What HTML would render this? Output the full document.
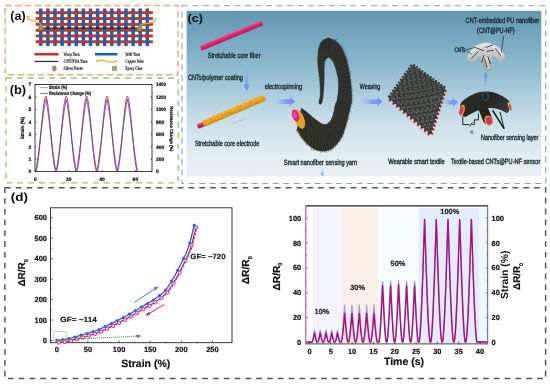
<!DOCTYPE html>
<html><head><meta charset="utf-8"><title>figure</title>
<style>html,body{margin:0;padding:0;background:#fff;}body{width:550px;height:384px;overflow:hidden}svg{display:block}text{text-rendering:geometricPrecision}</style>
</head><body>
<svg width="550" height="384" viewBox="0 0 550 384">
<defs>
<linearGradient id="bg" x1="0" y1="0" x2="0" y2="1">
<stop offset="0" stop-color="#6396af"/><stop offset="0.2" stop-color="#79abc3"/><stop offset="0.45" stop-color="#a1c6d7"/><stop offset="0.65" stop-color="#c6dde7"/><stop offset="0.85" stop-color="#e0ebf0"/><stop offset="1" stop-color="#e8f0f4"/>
</linearGradient>
<linearGradient id="pinkg" x1="0" y1="0" x2="0" y2="1"><stop offset="0" stop-color="#f0508a"/><stop offset="0.45" stop-color="#e3286c"/><stop offset="1" stop-color="#b81a55"/></linearGradient>
<linearGradient id="yelg" x1="0" y1="0" x2="0" y2="1"><stop offset="0" stop-color="#f2b93a"/><stop offset="0.5" stop-color="#e6a323"/><stop offset="1" stop-color="#c98912"/></linearGradient>
<linearGradient id="arrR" x1="0" y1="0" x2="1" y2="0"><stop offset="0" stop-color="#8fa8f4" stop-opacity="0"/><stop offset="0.55" stop-color="#7595f4" stop-opacity="0.85"/><stop offset="1" stop-color="#6c8cf4"/></linearGradient>
<linearGradient id="arrD" x1="0" y1="0" x2="0" y2="1"><stop offset="0" stop-color="#9bbcf0" stop-opacity="0.1"/><stop offset="1" stop-color="#5b8def"/></linearGradient>
<linearGradient id="arrU" x1="0" y1="1" x2="0" y2="0"><stop offset="0" stop-color="#9bbcf0" stop-opacity="0.1"/><stop offset="1" stop-color="#5b8def"/></linearGradient>
<radialGradient id="pinkend" cx="0.5" cy="0.5" r="0.5"><stop offset="0" stop-color="#ef4f93"/><stop offset="0.7" stop-color="#e32a70"/><stop offset="1" stop-color="#e8a020"/></radialGradient>
</defs>
<rect width="550" height="384" fill="#fff"/>
<rect x="5.2" y="5.5" width="172.8" height="69.3" fill="none" stroke="#f2a878" stroke-width="1.4" stroke-dasharray="6.5 3.4"/>
<rect x="6" y="78" width="172.2" height="104.80000000000001" fill="none" stroke="#8fcb6b" stroke-width="1.3" stroke-dasharray="6 4.8"/>
<rect x="182" y="5.7" width="363.70000000000005" height="177.8" fill="none" stroke="#7f9fe3" stroke-width="1.1" stroke-dasharray="6 4.5"/>
<rect x="4.9" y="187.7" width="540.7" height="190.90000000000003" fill="none" stroke="#555" stroke-width="1.45" stroke-dasharray="5.8 5"/>
<text x="10.3" y="20.2" font-family='"Liberation Sans", Arial, sans-serif' font-size="12.3" font-weight="bold" text-anchor="start" fill="#111" textLength="15.4" lengthAdjust="spacingAndGlyphs" >(a)</text>
<rect x="35.7" y="11.25" width="117.2" height="2.9" fill="#c0392b"/>
<rect x="35.7" y="17.05" width="117.2" height="2.9" fill="#c0392b"/>
<rect x="35.7" y="22.95" width="117.2" height="2.9" fill="#c0392b"/>
<rect x="35.7" y="28.85" width="117.2" height="2.9" fill="#c0392b"/>
<rect x="35.7" y="34.45" width="117.2" height="2.9" fill="#c0392b"/>
<rect x="35.7" y="40.35" width="117.2" height="2.9" fill="#c0392b"/>
<rect x="39.05" y="8.5" width="3.5" height="37.5" fill="#1f5fae"/>
<rect x="46.15" y="8.5" width="3.5" height="37.5" fill="#1f5fae"/>
<rect x="53.25" y="8.5" width="3.5" height="37.5" fill="#1f5fae"/>
<rect x="60.35" y="8.5" width="3.5" height="37.5" fill="#1f5fae"/>
<rect x="67.45" y="8.5" width="3.5" height="37.5" fill="#1f5fae"/>
<rect x="74.55" y="8.5" width="3.5" height="37.5" fill="#1f5fae"/>
<rect x="81.65" y="8.5" width="3.5" height="37.5" fill="#1f5fae"/>
<rect x="88.75" y="8.5" width="3.5" height="37.5" fill="#1f5fae"/>
<rect x="95.85" y="8.5" width="3.5" height="37.5" fill="#1f5fae"/>
<rect x="102.95" y="8.5" width="3.5" height="37.5" fill="#1f5fae"/>
<rect x="110.05" y="8.5" width="3.5" height="37.5" fill="#1f5fae"/>
<rect x="117.15" y="8.5" width="3.5" height="37.5" fill="#1f5fae"/>
<rect x="124.25" y="8.5" width="3.5" height="37.5" fill="#1f5fae"/>
<rect x="131.35" y="8.5" width="3.5" height="37.5" fill="#1f5fae"/>
<rect x="138.45" y="8.5" width="3.5" height="37.5" fill="#1f5fae"/>
<rect x="145.55" y="8.5" width="3.5" height="37.5" fill="#1f5fae"/>
<rect x="45.70" y="11.25" width="4.4" height="2.9" fill="#c0392b"/>
<rect x="59.90" y="11.25" width="4.4" height="2.9" fill="#c0392b"/>
<rect x="74.10" y="11.25" width="4.4" height="2.9" fill="#c0392b"/>
<rect x="88.30" y="11.25" width="4.4" height="2.9" fill="#c0392b"/>
<rect x="102.50" y="11.25" width="4.4" height="2.9" fill="#c0392b"/>
<rect x="116.70" y="11.25" width="4.4" height="2.9" fill="#c0392b"/>
<rect x="130.90" y="11.25" width="4.4" height="2.9" fill="#c0392b"/>
<rect x="145.10" y="11.25" width="4.4" height="2.9" fill="#c0392b"/>
<rect x="38.60" y="17.05" width="4.4" height="2.9" fill="#c0392b"/>
<rect x="52.80" y="17.05" width="4.4" height="2.9" fill="#c0392b"/>
<rect x="67.00" y="17.05" width="4.4" height="2.9" fill="#c0392b"/>
<rect x="81.20" y="17.05" width="4.4" height="2.9" fill="#c0392b"/>
<rect x="95.40" y="17.05" width="4.4" height="2.9" fill="#c0392b"/>
<rect x="109.60" y="17.05" width="4.4" height="2.9" fill="#c0392b"/>
<rect x="123.80" y="17.05" width="4.4" height="2.9" fill="#c0392b"/>
<rect x="138.00" y="17.05" width="4.4" height="2.9" fill="#c0392b"/>
<rect x="45.70" y="22.95" width="4.4" height="2.9" fill="#c0392b"/>
<rect x="59.90" y="22.95" width="4.4" height="2.9" fill="#c0392b"/>
<rect x="74.10" y="22.95" width="4.4" height="2.9" fill="#c0392b"/>
<rect x="88.30" y="22.95" width="4.4" height="2.9" fill="#c0392b"/>
<rect x="102.50" y="22.95" width="4.4" height="2.9" fill="#c0392b"/>
<rect x="116.70" y="22.95" width="4.4" height="2.9" fill="#c0392b"/>
<rect x="130.90" y="22.95" width="4.4" height="2.9" fill="#c0392b"/>
<rect x="145.10" y="22.95" width="4.4" height="2.9" fill="#c0392b"/>
<rect x="38.60" y="28.85" width="4.4" height="2.9" fill="#c0392b"/>
<rect x="52.80" y="28.85" width="4.4" height="2.9" fill="#c0392b"/>
<rect x="67.00" y="28.85" width="4.4" height="2.9" fill="#c0392b"/>
<rect x="81.20" y="28.85" width="4.4" height="2.9" fill="#c0392b"/>
<rect x="95.40" y="28.85" width="4.4" height="2.9" fill="#c0392b"/>
<rect x="109.60" y="28.85" width="4.4" height="2.9" fill="#c0392b"/>
<rect x="123.80" y="28.85" width="4.4" height="2.9" fill="#c0392b"/>
<rect x="138.00" y="28.85" width="4.4" height="2.9" fill="#c0392b"/>
<rect x="45.70" y="34.45" width="4.4" height="2.9" fill="#c0392b"/>
<rect x="59.90" y="34.45" width="4.4" height="2.9" fill="#c0392b"/>
<rect x="74.10" y="34.45" width="4.4" height="2.9" fill="#c0392b"/>
<rect x="88.30" y="34.45" width="4.4" height="2.9" fill="#c0392b"/>
<rect x="102.50" y="34.45" width="4.4" height="2.9" fill="#c0392b"/>
<rect x="116.70" y="34.45" width="4.4" height="2.9" fill="#c0392b"/>
<rect x="130.90" y="34.45" width="4.4" height="2.9" fill="#c0392b"/>
<rect x="145.10" y="34.45" width="4.4" height="2.9" fill="#c0392b"/>
<rect x="38.60" y="40.35" width="4.4" height="2.9" fill="#c0392b"/>
<rect x="52.80" y="40.35" width="4.4" height="2.9" fill="#c0392b"/>
<rect x="67.00" y="40.35" width="4.4" height="2.9" fill="#c0392b"/>
<rect x="81.20" y="40.35" width="4.4" height="2.9" fill="#c0392b"/>
<rect x="95.40" y="40.35" width="4.4" height="2.9" fill="#c0392b"/>
<rect x="109.60" y="40.35" width="4.4" height="2.9" fill="#c0392b"/>
<rect x="123.80" y="40.35" width="4.4" height="2.9" fill="#c0392b"/>
<rect x="138.00" y="40.35" width="4.4" height="2.9" fill="#c0392b"/>
<line x1="43" y1="28.2" x2="139" y2="28.2" stroke="#1a1a1a" stroke-width="1.2"/>
<ellipse cx="40.8" cy="27.6" rx="2.6" ry="2.6" fill="#8a9a66"/>
<ellipse cx="139.8" cy="28.2" rx="2.6" ry="2.6" fill="#8a9a66"/>
<path d="M41.5 25.6 C41 23.5 39.5 22.5 36 21.5 C32 20.3 28.5 19.8 27.2 18.6 C26 17.2 27.5 16 30.2 16.3" fill="none" stroke="#eda21b" stroke-width="1.15"/>
<path d="M139.8 26.3 C140.5 24.5 142 23.6 145 23.6 C149 23.6 152.5 23 154.5 21 C155.8 19.6 156.2 18.6 156.2 17.6" fill="none" stroke="#eda21b" stroke-width="1.15"/>
<rect x="34.5" y="52.9" width="24" height="2.6" fill="#c0392b"/>
<rect x="95" y="52.9" width="22.5" height="2.6" fill="#1f5fae"/>
<rect x="34.5" y="60.8" width="24" height="1.3" fill="#333"/>
<path d="M96 61.8 C99 59.2 102 59.6 106 61.2 C110 62.8 114 62.6 117.5 60.4" fill="none" stroke="#eda21b" stroke-width="1.15"/>
<ellipse cx="54.3" cy="68.4" rx="2.2" ry="2.8" fill="#8e8e86"/>
<rect x="112" y="65.9" width="5" height="5" fill="#9bad78"/>
<text x="63.6" y="55.6" font-family='"Liberation Serif", "Times New Roman", serif' font-size="5.2" font-weight="bold" text-anchor="start" fill="#2a2a2a" textLength="16" lengthAdjust="spacingAndGlyphs" stroke="#2a2a2a" stroke-width="0.15">Warp Yarn</text>
<text x="125.3" y="55.6" font-family='"Liberation Serif", "Times New Roman", serif' font-size="5.2" font-weight="bold" text-anchor="start" fill="#2a2a2a" textLength="14.8" lengthAdjust="spacingAndGlyphs" stroke="#2a2a2a" stroke-width="0.15">Weft Yarn</text>
<text x="63.6" y="63" font-family='"Liberation Serif", "Times New Roman", serif' font-size="5.2" font-weight="bold" text-anchor="start" fill="#2a2a2a" textLength="24" lengthAdjust="spacingAndGlyphs" stroke="#2a2a2a" stroke-width="0.15">CNT/PVA Yarn</text>
<text x="125.3" y="63" font-family='"Liberation Serif", "Times New Roman", serif' font-size="5.2" font-weight="bold" text-anchor="start" fill="#2a2a2a" textLength="18.4" lengthAdjust="spacingAndGlyphs" stroke="#2a2a2a" stroke-width="0.15">Copper Wire</text>
<text x="63.6" y="70" font-family='"Liberation Serif", "Times New Roman", serif' font-size="5.2" font-weight="bold" text-anchor="start" fill="#2a2a2a" textLength="19" lengthAdjust="spacingAndGlyphs" stroke="#2a2a2a" stroke-width="0.15">Silver Paste</text>
<text x="125.3" y="70" font-family='"Liberation Serif", "Times New Roman", serif' font-size="5.2" font-weight="bold" text-anchor="start" fill="#2a2a2a" textLength="17" lengthAdjust="spacingAndGlyphs" stroke="#2a2a2a" stroke-width="0.15">Epoxy Glue</text>
<text x="9.7" y="93.8" font-family='"Liberation Sans", Arial, sans-serif' font-size="12.6" font-weight="bold" text-anchor="start" fill="#111" textLength="16.5" lengthAdjust="spacingAndGlyphs" >(b)</text>
<rect x="35" y="84.5" width="117" height="87.1" fill="#fff" stroke="#111" stroke-width="0.8"/>
<polyline points="35.60,171.60 35.85,171.25 36.10,170.75 36.35,170.08 36.60,169.24 36.85,168.22 37.10,167.03 37.35,165.67 37.60,164.14 37.85,162.45 38.10,160.61 38.35,158.62 38.60,156.49 38.85,154.24 39.10,151.88 39.35,149.41 39.60,146.85 39.85,144.22 40.10,141.53 40.35,138.79 40.60,136.02 40.85,133.23 41.10,130.45 41.35,127.68 41.60,124.94 41.85,122.24 42.10,119.61 42.35,117.05 42.60,114.59 42.85,112.23 43.10,109.98 43.35,107.87 43.60,105.90 43.85,104.08 44.10,102.43 44.35,100.94 44.60,99.63 44.85,98.51 45.10,97.58 45.35,96.85 45.60,96.31 45.85,96.09 46.10,96.50 46.35,97.12 46.60,97.93 46.85,98.94 47.10,100.14 47.35,101.51 47.60,103.07 47.85,104.79 48.10,106.67 48.35,108.70 48.60,110.87 48.85,113.16 49.10,115.56 49.35,118.07 49.60,120.65 49.85,123.31 50.10,126.03 50.35,128.78 50.60,131.56 50.85,134.35 51.10,137.13 51.35,139.89 51.60,142.61 51.85,145.28 52.10,147.89 52.35,150.41 52.60,152.84 52.85,155.16 53.10,157.36 53.35,159.43 53.60,161.36 53.85,163.14 54.10,164.77 54.35,166.23 54.60,167.52 54.85,168.65 55.10,169.59 55.35,170.37 55.60,170.97 55.85,171.41 56.10,171.48 56.35,171.07 56.60,170.50 56.85,169.76 57.10,168.85 57.35,167.76 57.60,166.50 57.85,165.07 58.10,163.48 58.35,161.73 58.60,159.83 58.85,157.78 59.10,155.61 59.35,153.31 59.60,150.90 59.85,148.40 60.10,145.81 60.35,143.15 60.60,140.44 60.85,137.69 61.10,134.91 61.35,132.12 61.60,129.34 61.85,126.58 62.10,123.85 62.35,121.18 62.60,118.58 62.85,116.05 63.10,113.63 63.35,111.31 63.60,109.12 63.85,107.06 64.10,105.15 64.35,103.40 64.60,101.81 64.85,100.40 65.10,99.16 65.35,98.12 65.60,97.27 65.85,96.61 66.10,96.15 66.35,96.23 66.60,96.73 66.85,97.42 67.10,98.31 67.35,99.40 67.60,100.66 67.85,102.11 68.10,103.74 68.35,105.52 68.60,107.46 68.85,109.55 69.10,111.77 69.35,114.11 69.60,116.55 69.85,119.09 70.10,121.71 70.35,124.39 70.60,127.12 70.85,129.89 71.10,132.68 71.35,135.46 71.60,138.24 71.85,140.99 72.10,143.69 72.35,146.33 72.60,148.91 72.85,151.39 73.10,153.78 73.35,156.05 73.60,158.20 73.85,160.22 74.10,162.09 74.35,163.81 74.60,165.37 74.85,166.77 75.10,167.99 75.35,169.05 75.60,169.92 75.85,170.63 76.10,171.17 76.35,171.54 76.60,171.33 76.85,170.86 77.10,170.23 77.35,169.42 77.60,168.44 77.85,167.28 78.10,165.95 78.35,164.46 78.60,162.80 78.85,160.99 79.10,159.03 79.35,156.93 79.60,154.70 79.85,152.36 80.10,149.91 80.35,147.37 80.60,144.75 80.85,142.07 81.10,139.34 81.35,136.58 81.60,133.79 81.85,131.00 82.10,128.23 82.35,125.48 82.60,122.78 82.85,120.13 83.10,117.56 83.35,115.07 83.60,112.69 83.85,110.42 84.10,108.28 84.35,106.28 84.60,104.43 84.85,102.74 85.10,101.22 85.35,99.88 85.60,98.72 85.85,97.75 86.10,96.98 86.35,96.40 86.60,96.03 86.85,96.40 87.10,96.98 87.35,97.75 87.60,98.72 87.85,99.88 88.10,101.22 88.35,102.74 88.60,104.43 88.85,106.28 89.10,108.28 89.35,110.42 89.60,112.69 89.85,115.07 90.10,117.56 90.35,120.13 90.60,122.78 90.85,125.48 91.10,128.23 91.35,131.00 91.60,133.79 91.85,136.58 92.10,139.34 92.35,142.07 92.60,144.75 92.85,147.37 93.10,149.91 93.35,152.36 93.60,154.70 93.85,156.93 94.10,159.03 94.35,160.99 94.60,162.80 94.85,164.46 95.10,165.95 95.35,167.28 95.60,168.44 95.85,169.42 96.10,170.23 96.35,170.86 96.60,171.33 96.85,171.54 97.10,171.17 97.35,170.63 97.60,169.92 97.85,169.05 98.10,167.99 98.35,166.77 98.60,165.37 98.85,163.81 99.10,162.09 99.35,160.22 99.60,158.20 99.85,156.05 100.10,153.78 100.35,151.39 100.60,148.91 100.85,146.33 101.10,143.69 101.35,140.99 101.60,138.24 101.85,135.46 102.10,132.68 102.35,129.89 102.60,127.12 102.85,124.39 103.10,121.71 103.35,119.09 103.60,116.55 103.85,114.11 104.10,111.77 104.35,109.55 104.60,107.46 104.85,105.52 105.10,103.74 105.35,102.11 105.60,100.66 105.85,99.40 106.10,98.31 106.35,97.42 106.60,96.73 106.85,96.23 107.10,96.15 107.35,96.61 107.60,97.27 107.85,98.12 108.10,99.16 108.35,100.40 108.60,101.81 108.85,103.40 109.10,105.15 109.35,107.06 109.60,109.12 109.85,111.31 110.10,113.63 110.35,116.05 110.60,118.58 110.85,121.18 111.10,123.85 111.35,126.58 111.60,129.34 111.85,132.12 112.10,134.91 112.35,137.69 112.60,140.44 112.85,143.15 113.10,145.81 113.35,148.40 113.60,150.90 113.85,153.31 114.10,155.61 114.35,157.78 114.60,159.83 114.85,161.73 115.10,163.48 115.35,165.07 115.60,166.50 115.85,167.76 116.10,168.85 116.35,169.76 116.60,170.50 116.85,171.07 117.10,171.48 117.35,171.41 117.60,170.97 117.85,170.37 118.10,169.59 118.35,168.65 118.60,167.52 118.85,166.23 119.10,164.77 119.35,163.14 119.60,161.36 119.85,159.43 120.10,157.36 120.35,155.16 120.60,152.84 120.85,150.41 121.10,147.89 121.35,145.28 121.60,142.61 121.85,139.89 122.10,137.13 122.35,134.35 122.60,131.56 122.85,128.78 123.10,126.03 123.35,123.31 123.60,120.65 123.85,118.07 124.10,115.56 124.35,113.16 124.60,110.87 124.85,108.70 125.10,106.67 125.35,104.79 125.60,103.07 125.85,101.51 126.10,100.14 126.35,98.94 126.60,97.93 126.85,97.12 127.10,96.50 127.35,96.09 127.60,96.31 127.85,96.85 128.10,97.58 128.35,98.51 128.60,99.63 128.85,100.94 129.10,102.43 129.35,104.08 129.60,105.90 129.85,107.87 130.10,109.98 130.35,112.23 130.60,114.59 130.85,117.05 131.10,119.61 131.35,122.24 131.60,124.94 131.85,127.68 132.10,130.45 132.35,133.23 132.60,136.02 132.85,138.79 133.10,141.53 133.35,144.22 133.60,146.85 133.85,149.41 134.10,151.88 134.35,154.24 134.60,156.49 134.85,158.62 135.10,160.61 135.35,162.45 135.60,164.14 135.85,165.67 136.10,167.03 136.35,168.22 136.60,169.24 136.85,170.08 137.10,170.75 137.35,171.25 137.60,171.60" fill="none" stroke="#e0222c" stroke-width="0.95"/>
<polyline points="35.60,171.60 35.85,170.32 36.10,168.98 36.35,167.57 36.60,166.10 36.85,164.56 37.10,162.97 37.35,161.32 37.60,159.61 37.85,157.86 38.10,156.05 38.35,154.19 38.60,152.29 38.85,150.36 39.10,148.39 39.35,146.38 39.60,144.36 39.85,142.31 40.10,140.24 40.35,138.16 40.60,136.08 40.85,133.99 41.10,131.91 41.35,129.83 41.60,127.77 41.85,125.72 42.10,123.70 42.35,121.70 42.60,119.74 42.85,117.81 43.10,115.92 43.35,114.07 43.60,112.27 43.85,110.52 44.10,108.83 44.35,107.19 44.60,105.61 44.85,104.09 45.10,102.63 45.35,101.23 45.60,99.90 45.85,99.14 46.10,100.43 46.35,101.79 46.60,103.21 46.85,104.69 47.10,106.23 47.35,107.84 47.60,109.50 47.85,111.22 48.10,112.99 48.35,114.80 48.60,116.67 48.85,118.57 49.10,120.52 49.35,122.50 49.60,124.50 49.85,126.54 50.10,128.59 50.35,130.66 50.60,132.74 50.85,134.82 51.10,136.91 51.35,138.99 51.60,141.07 51.85,143.13 52.10,145.17 52.35,147.19 52.60,149.18 52.85,151.14 53.10,153.06 53.35,154.94 53.60,156.78 53.85,158.57 54.10,160.30 54.35,161.99 54.60,163.62 54.85,165.18 55.10,166.69 55.35,168.14 55.60,169.52 55.85,170.84 56.10,171.10 56.35,169.79 56.60,168.42 56.85,166.99 57.10,165.49 57.35,163.93 57.60,162.32 57.85,160.64 58.10,158.92 58.35,157.14 58.60,155.31 58.85,153.44 59.10,151.52 59.35,149.57 59.60,147.59 59.85,145.58 60.10,143.54 60.35,141.48 60.60,139.41 60.85,137.33 61.10,135.24 61.35,133.16 61.60,131.07 61.85,129.00 62.10,126.95 62.35,124.91 62.60,122.90 62.85,120.91 63.10,118.96 63.35,117.05 63.60,115.17 63.85,113.35 64.10,111.57 64.35,109.84 64.60,108.17 64.85,106.55 65.10,104.99 65.35,103.50 65.60,102.06 65.85,100.69 66.10,99.39 66.35,99.64 66.60,100.96 66.85,102.35 67.10,103.79 67.35,105.30 67.60,106.87 67.85,108.50 68.10,110.18 68.35,111.92 68.60,113.71 68.85,115.54 69.10,117.43 69.35,119.35 69.60,121.31 69.85,123.30 70.10,125.31 70.35,127.36 70.60,129.42 70.85,131.49 71.10,133.57 71.35,135.66 71.60,137.75 71.85,139.83 72.10,141.89 72.35,143.95 72.60,145.98 72.85,147.99 73.10,149.97 73.35,151.91 73.60,153.82 73.85,155.68 74.10,157.50 74.35,159.27 74.60,160.98 74.85,162.65 75.10,164.25 75.35,165.79 75.60,167.28 75.85,168.70 76.10,170.06 76.35,171.35 76.60,170.58 76.85,169.25 77.10,167.85 77.35,166.40 77.60,164.88 77.85,163.29 78.10,161.66 78.35,159.96 78.60,158.21 78.85,156.41 79.10,154.57 79.35,152.68 79.60,150.75 79.85,148.78 80.10,146.79 80.35,144.76 80.60,142.72 80.85,140.66 81.10,138.58 81.35,136.49 81.60,134.41 81.85,132.32 82.10,130.24 82.35,128.18 82.60,126.13 82.85,124.10 83.10,122.10 83.35,120.13 83.60,118.19 83.85,116.29 84.10,114.44 84.35,112.63 84.60,110.87 84.85,109.16 85.10,107.51 85.35,105.92 85.60,104.39 85.85,102.92 86.10,101.51 86.35,100.16 86.60,98.88 86.85,100.16 87.10,101.51 87.35,102.92 87.60,104.39 87.85,105.92 88.10,107.51 88.35,109.16 88.60,110.87 88.85,112.63 89.10,114.44 89.35,116.29 89.60,118.19 89.85,120.13 90.10,122.10 90.35,124.10 90.60,126.13 90.85,128.18 91.10,130.24 91.35,132.32 91.60,134.41 91.85,136.49 92.10,138.58 92.35,140.66 92.60,142.72 92.85,144.76 93.10,146.79 93.35,148.78 93.60,150.75 93.85,152.68 94.10,154.57 94.35,156.41 94.60,158.21 94.85,159.96 95.10,161.66 95.35,163.29 95.60,164.88 95.85,166.40 96.10,167.85 96.35,169.25 96.60,170.58 96.85,171.35 97.10,170.06 97.35,168.70 97.60,167.28 97.85,165.79 98.10,164.25 98.35,162.65 98.60,160.98 98.85,159.27 99.10,157.50 99.35,155.68 99.60,153.82 99.85,151.91 100.10,149.97 100.35,147.99 100.60,145.98 100.85,143.95 101.10,141.89 101.35,139.83 101.60,137.75 101.85,135.66 102.10,133.57 102.35,131.49 102.60,129.42 102.85,127.36 103.10,125.31 103.35,123.30 103.60,121.31 103.85,119.35 104.10,117.43 104.35,115.54 104.60,113.71 104.85,111.92 105.10,110.18 105.35,108.50 105.60,106.87 105.85,105.30 106.10,103.79 106.35,102.35 106.60,100.96 106.85,99.64 107.10,99.39 107.35,100.69 107.60,102.06 107.85,103.50 108.10,104.99 108.35,106.55 108.60,108.17 108.85,109.84 109.10,111.57 109.35,113.35 109.60,115.17 109.85,117.05 110.10,118.96 110.35,120.91 110.60,122.90 110.85,124.91 111.10,126.95 111.35,129.00 111.60,131.07 111.85,133.16 112.10,135.24 112.35,137.33 112.60,139.41 112.85,141.48 113.10,143.54 113.35,145.58 113.60,147.59 113.85,149.57 114.10,151.52 114.35,153.44 114.60,155.31 114.85,157.14 115.10,158.92 115.35,160.64 115.60,162.32 115.85,163.93 116.10,165.49 116.35,166.99 116.60,168.42 116.85,169.79 117.10,171.10 117.35,170.84 117.60,169.52 117.85,168.14 118.10,166.69 118.35,165.18 118.60,163.62 118.85,161.99 119.10,160.30 119.35,158.57 119.60,156.78 119.85,154.94 120.10,153.06 120.35,151.14 120.60,149.18 120.85,147.19 121.10,145.17 121.35,143.13 121.60,141.07 121.85,138.99 122.10,136.91 122.35,134.82 122.60,132.74 122.85,130.66 123.10,128.59 123.35,126.54 123.60,124.50 123.85,122.50 124.10,120.52 124.35,118.57 124.60,116.67 124.85,114.80 125.10,112.99 125.35,111.22 125.60,109.50 125.85,107.84 126.10,106.23 126.35,104.69 126.60,103.21 126.85,101.79 127.10,100.43 127.35,99.14 127.60,99.90 127.85,101.23 128.10,102.63 128.35,104.09 128.60,105.61 128.85,107.19 129.10,108.83 129.35,110.52 129.60,112.27 129.85,114.07 130.10,115.92 130.35,117.81 130.60,119.74 130.85,121.70 131.10,123.70 131.35,125.72 131.60,127.77 131.85,129.83 132.10,131.91 132.35,133.99 132.60,136.08 132.85,138.16 133.10,140.24 133.35,142.31 133.60,144.36 133.85,146.38 134.10,148.39 134.35,150.36 134.60,152.29 134.85,154.19 135.10,156.05 135.35,157.86 135.60,159.61 135.85,161.32 136.10,162.97 136.35,164.56 136.60,166.10 136.85,167.57 137.10,168.98 137.35,170.32 137.60,171.60" fill="none" stroke="#3040c8" stroke-width="0.8"/>
<line x1="35" y1="171.60" x2="36.6" y2="171.60" stroke="#111" stroke-width="0.6"/>
<text x="31.4" y="173.4" font-family='"Liberation Sans", Arial, sans-serif' font-size="5" font-weight="bold" text-anchor="end" fill="#111" stroke="#111" stroke-width="0.22">0</text>
<line x1="35" y1="159.17" x2="36.6" y2="159.17" stroke="#111" stroke-width="0.6"/>
<text x="31.4" y="160.97" font-family='"Liberation Sans", Arial, sans-serif' font-size="5" font-weight="bold" text-anchor="end" fill="#111" stroke="#111" stroke-width="0.22">1</text>
<line x1="35" y1="146.74" x2="36.6" y2="146.74" stroke="#111" stroke-width="0.6"/>
<text x="31.4" y="148.54000000000002" font-family='"Liberation Sans", Arial, sans-serif' font-size="5" font-weight="bold" text-anchor="end" fill="#111" stroke="#111" stroke-width="0.22">2</text>
<line x1="35" y1="134.31" x2="36.6" y2="134.31" stroke="#111" stroke-width="0.6"/>
<text x="31.4" y="136.11" font-family='"Liberation Sans", Arial, sans-serif' font-size="5" font-weight="bold" text-anchor="end" fill="#111" stroke="#111" stroke-width="0.22">3</text>
<line x1="35" y1="121.88" x2="36.6" y2="121.88" stroke="#111" stroke-width="0.6"/>
<text x="31.4" y="123.67999999999999" font-family='"Liberation Sans", Arial, sans-serif' font-size="5" font-weight="bold" text-anchor="end" fill="#111" stroke="#111" stroke-width="0.22">4</text>
<line x1="35" y1="109.45" x2="36.6" y2="109.45" stroke="#111" stroke-width="0.6"/>
<text x="31.4" y="111.24999999999999" font-family='"Liberation Sans", Arial, sans-serif' font-size="5" font-weight="bold" text-anchor="end" fill="#111" stroke="#111" stroke-width="0.22">5</text>
<line x1="35" y1="97.02" x2="36.6" y2="97.02" stroke="#111" stroke-width="0.6"/>
<text x="31.4" y="98.82" font-family='"Liberation Sans", Arial, sans-serif' font-size="5" font-weight="bold" text-anchor="end" fill="#111" stroke="#111" stroke-width="0.22">6</text>
<line x1="35" y1="84.59" x2="36.6" y2="84.59" stroke="#111" stroke-width="0.6"/>
<text x="31.4" y="86.39" font-family='"Liberation Sans", Arial, sans-serif' font-size="5" font-weight="bold" text-anchor="end" fill="#111" stroke="#111" stroke-width="0.22">7</text>
<line x1="150.4" y1="171.60" x2="152" y2="171.60" stroke="#111" stroke-width="0.6"/>
<text x="155.9" y="173.4" font-family='"Liberation Sans", Arial, sans-serif' font-size="5" font-weight="bold" text-anchor="start" fill="#111" stroke="#111" stroke-width="0.22">0</text>
<line x1="150.4" y1="159.16" x2="152" y2="159.16" stroke="#111" stroke-width="0.6"/>
<text x="155.9" y="160.95714285714286" font-family='"Liberation Sans", Arial, sans-serif' font-size="5" font-weight="bold" text-anchor="start" fill="#111" stroke="#111" stroke-width="0.22">200</text>
<line x1="150.4" y1="146.71" x2="152" y2="146.71" stroke="#111" stroke-width="0.6"/>
<text x="155.9" y="148.51428571428573" font-family='"Liberation Sans", Arial, sans-serif' font-size="5" font-weight="bold" text-anchor="start" fill="#111" stroke="#111" stroke-width="0.22">400</text>
<line x1="150.4" y1="134.27" x2="152" y2="134.27" stroke="#111" stroke-width="0.6"/>
<text x="155.9" y="136.07142857142858" font-family='"Liberation Sans", Arial, sans-serif' font-size="5" font-weight="bold" text-anchor="start" fill="#111" stroke="#111" stroke-width="0.22">600</text>
<line x1="150.4" y1="121.83" x2="152" y2="121.83" stroke="#111" stroke-width="0.6"/>
<text x="155.9" y="123.62857142857142" font-family='"Liberation Sans", Arial, sans-serif' font-size="5" font-weight="bold" text-anchor="start" fill="#111" stroke="#111" stroke-width="0.22">800</text>
<line x1="150.4" y1="109.39" x2="152" y2="109.39" stroke="#111" stroke-width="0.6"/>
<text x="155.9" y="111.18571428571427" font-family='"Liberation Sans", Arial, sans-serif' font-size="5" font-weight="bold" text-anchor="start" fill="#111" textLength="10.2" lengthAdjust="spacingAndGlyphs" stroke="#111" stroke-width="0.22">1000</text>
<line x1="150.4" y1="96.94" x2="152" y2="96.94" stroke="#111" stroke-width="0.6"/>
<text x="155.9" y="98.74285714285715" font-family='"Liberation Sans", Arial, sans-serif' font-size="5" font-weight="bold" text-anchor="start" fill="#111" textLength="10.2" lengthAdjust="spacingAndGlyphs" stroke="#111" stroke-width="0.22">1200</text>
<line x1="150.4" y1="84.50" x2="152" y2="84.50" stroke="#111" stroke-width="0.6"/>
<text x="155.9" y="86.3" font-family='"Liberation Sans", Arial, sans-serif' font-size="5" font-weight="bold" text-anchor="start" fill="#111" textLength="10.2" lengthAdjust="spacingAndGlyphs" stroke="#111" stroke-width="0.22">1400</text>
<line x1="35.50" y1="171.6" x2="35.50" y2="170.0" stroke="#111" stroke-width="0.6"/>
<text x="35.5" y="180.6" font-family='"Liberation Sans", Arial, sans-serif' font-size="5" font-weight="bold" text-anchor="middle" fill="#111" stroke="#111" stroke-width="0.22">0</text>
<line x1="68.80" y1="171.6" x2="68.80" y2="170.0" stroke="#111" stroke-width="0.6"/>
<text x="68.8" y="180.6" font-family='"Liberation Sans", Arial, sans-serif' font-size="5" font-weight="bold" text-anchor="middle" fill="#111" stroke="#111" stroke-width="0.22">20</text>
<line x1="102.10" y1="171.6" x2="102.10" y2="170.0" stroke="#111" stroke-width="0.6"/>
<text x="102.1" y="180.6" font-family='"Liberation Sans", Arial, sans-serif' font-size="5" font-weight="bold" text-anchor="middle" fill="#111" stroke="#111" stroke-width="0.22">40</text>
<line x1="135.40" y1="171.6" x2="135.40" y2="170.0" stroke="#111" stroke-width="0.6"/>
<text x="135.4" y="180.6" font-family='"Liberation Sans", Arial, sans-serif' font-size="5" font-weight="bold" text-anchor="middle" fill="#111" stroke="#111" stroke-width="0.22">60</text>
<text x="23.8" y="128" font-family='"Liberation Sans", Arial, sans-serif' font-size="4.8" font-weight="bold" text-anchor="middle" fill="#111" transform="rotate(-90 23.8 128)" stroke="#111" stroke-width="0.22">Strain (%)</text>
<text x="170.4" y="128.8" font-family='"Liberation Sans", Arial, sans-serif' font-size="4.5" font-weight="bold" text-anchor="middle" fill="#111" textLength="45" lengthAdjust="spacingAndGlyphs" transform="rotate(90 170.4 128.8)" stroke="#111" stroke-width="0.22">Resistance Change (%)</text>
<line x1="40.3" y1="87.6" x2="48" y2="87.6" stroke="#3b4fc4" stroke-width="0.7" stroke-dasharray="1.2 0.4"/>
<line x1="40.3" y1="93.4" x2="48" y2="93.4" stroke="#e0222c" stroke-width="0.8"/>
<text x="49" y="89.3" font-family='"Liberation Sans", Arial, sans-serif' font-size="5" font-weight="bold" text-anchor="start" fill="#111" textLength="18.2" lengthAdjust="spacingAndGlyphs" stroke="#111" stroke-width="0.22">Strain (%)</text>
<text x="49" y="95.1" font-family='"Liberation Sans", Arial, sans-serif' font-size="5" font-weight="bold" text-anchor="start" fill="#111" textLength="42" lengthAdjust="spacingAndGlyphs" stroke="#111" stroke-width="0.22">Resistance Change (%)</text>
<rect x="186.6" y="10.8" width="354.7" height="165.7" fill="url(#bg)"/>
<text x="187.6" y="22.2" font-family='"Liberation Sans", Arial, sans-serif' font-size="11.4" font-weight="bold" text-anchor="start" fill="#0a0a0a" textLength="15.4" lengthAdjust="spacingAndGlyphs" >(c)</text>
<text x="207.8" y="57.8" font-family='"Liberation Sans", Arial, sans-serif' font-size="7.7" font-weight="normal" text-anchor="start" fill="#1c2a33" textLength="52.7" lengthAdjust="spacingAndGlyphs" stroke="#1c2a33" stroke-width="0.4">Stretchable core fiber</text>
<text x="187.9" y="79.8" font-family='"Liberation Sans", Arial, sans-serif' font-size="7.7" font-weight="normal" text-anchor="start" fill="#1c2a33" textLength="55" lengthAdjust="spacingAndGlyphs" stroke="#1c2a33" stroke-width="0.4">CNTs/polymer coating</text>
<text x="264.7" y="89.4" font-family='"Liberation Sans", Arial, sans-serif' font-size="7.7" font-weight="normal" text-anchor="start" fill="#1c2a33" textLength="37.4" lengthAdjust="spacingAndGlyphs" stroke="#1c2a33" stroke-width="0.4">electrospinning</text>
<text x="194.9" y="146.2" font-family='"Liberation Sans", Arial, sans-serif' font-size="7.7" font-weight="normal" text-anchor="start" fill="#1c2a33" textLength="64.4" lengthAdjust="spacingAndGlyphs" stroke="#1c2a33" stroke-width="0.4">Stretchable core electrode</text>
<text x="284.1" y="164.6" font-family='"Liberation Sans", Arial, sans-serif' font-size="7.7" font-weight="normal" text-anchor="start" fill="#1c2a33" textLength="73" lengthAdjust="spacingAndGlyphs" stroke="#1c2a33" stroke-width="0.4">Smart nanofiber sensing yarn</text>
<text x="359.8" y="88.6" font-family='"Liberation Sans", Arial, sans-serif' font-size="7.7" font-weight="normal" text-anchor="start" fill="#1c2a33" textLength="20.5" lengthAdjust="spacingAndGlyphs" stroke="#1c2a33" stroke-width="0.4">Weaving</text>
<text x="388.2" y="163.8" font-family='"Liberation Sans", Arial, sans-serif' font-size="7.7" font-weight="normal" text-anchor="start" fill="#1c2a33" textLength="56.6" lengthAdjust="spacingAndGlyphs" stroke="#1c2a33" stroke-width="0.4">Wearable smart textile</text>
<text x="451" y="163.8" font-family='"Liberation Sans", Arial, sans-serif' font-size="7.7" font-weight="normal" text-anchor="start" fill="#1c2a33" textLength="89.3" lengthAdjust="spacingAndGlyphs" stroke="#1c2a33" stroke-width="0.4">Textile-based CNTs@PU-NF sensor</text>
<text x="465.6" y="22.7" font-family='"Liberation Sans", Arial, sans-serif' font-size="7.7" font-weight="normal" text-anchor="start" fill="#1c2a33" textLength="73.6" lengthAdjust="spacingAndGlyphs" stroke="#1c2a33" stroke-width="0.4">CNT-embedded PU nanofiber</text>
<text x="477.1" y="32.5" font-family='"Liberation Sans", Arial, sans-serif' font-size="7.7" font-weight="normal" text-anchor="start" fill="#1c2a33" textLength="37.5" lengthAdjust="spacingAndGlyphs" stroke="#1c2a33" stroke-width="0.4">(CNT@PU-NF)</text>
<text x="454.6" y="51.9" font-family='"Liberation Sans", Arial, sans-serif' font-size="6.6" font-weight="normal" text-anchor="start" fill="#1c2a33" textLength="11" lengthAdjust="spacingAndGlyphs" stroke="#1c2a33" stroke-width="0.4">CNTs</text>
<text x="481" y="140.3" font-family='"Liberation Sans", Arial, sans-serif' font-size="7.7" font-weight="normal" text-anchor="start" fill="#1c2a33" textLength="57.4" lengthAdjust="spacingAndGlyphs" stroke="#1c2a33" stroke-width="0.4">Nanofiber sensing layer</text>
<text x="470.2" y="134" font-family='"Liberation Sans", Arial, sans-serif' font-size="5.4" font-weight="normal" text-anchor="start" fill="#111" >K</text>
<g transform="translate(200.6 48.3) rotate(-22.42)"><rect x="0" y="-2.6" width="66.85" height="5.2" rx="1.30" fill="url(#pinkg)"/></g>
<g transform="translate(197.4 126.7) rotate(-23.58)"><rect x="0" y="-2.4" width="13.75" height="4.8" rx="1.20" fill="url(#pinkg)"/></g>
<g transform="translate(203.2 123.8) rotate(-23.24)"><rect x="0" y="-3.3" width="67.15" height="6.6" rx="1.65" fill="url(#yelg)"/></g>
<g transform="translate(203.2 123.8) rotate(-23.24)"><circle cx="16.5" cy="0.2" r="0.41" fill="#d4951b"/><circle cx="31.9" cy="0.5" r="0.48" fill="#f3c24a"/><circle cx="17.9" cy="-1.5" r="0.60" fill="#f3c24a"/><circle cx="36.2" cy="0.3" r="0.42" fill="#c98a14"/><circle cx="16.1" cy="-2.0" r="0.58" fill="#f3c24a"/><circle cx="49.3" cy="1.0" r="0.32" fill="#d4951b"/><circle cx="3.8" cy="1.6" r="0.55" fill="#f3c24a"/><circle cx="31.8" cy="1.2" r="0.56" fill="#d4951b"/><circle cx="52.3" cy="-0.4" r="0.52" fill="#d4951b"/><circle cx="30.0" cy="2.4" r="0.56" fill="#c98a14"/><circle cx="3.3" cy="-0.0" r="0.38" fill="#d4951b"/><circle cx="29.4" cy="0.7" r="0.39" fill="#d4951b"/><circle cx="55.3" cy="0.4" r="0.46" fill="#f3c24a"/><circle cx="39.1" cy="2.3" r="0.50" fill="#c98a14"/><circle cx="56.8" cy="2.7" r="0.50" fill="#c98a14"/><circle cx="46.5" cy="-1.0" r="0.46" fill="#d4951b"/><circle cx="38.1" cy="1.2" r="0.36" fill="#d4951b"/><circle cx="18.4" cy="-2.1" r="0.44" fill="#d4951b"/><circle cx="65.5" cy="-2.3" r="0.54" fill="#f3c24a"/><circle cx="59.4" cy="-2.7" r="0.43" fill="#f3c24a"/><circle cx="57.9" cy="-2.6" r="0.48" fill="#c98a14"/><circle cx="25.6" cy="0.5" r="0.47" fill="#f3c24a"/><circle cx="33.9" cy="2.8" r="0.39" fill="#c98a14"/><circle cx="8.0" cy="0.2" r="0.58" fill="#f3c24a"/><circle cx="20.0" cy="-1.3" r="0.51" fill="#f3c24a"/><circle cx="21.4" cy="2.6" r="0.57" fill="#f3c24a"/><circle cx="25.5" cy="2.1" r="0.42" fill="#d4951b"/><circle cx="45.4" cy="-2.2" r="0.59" fill="#d4951b"/><circle cx="18.7" cy="0.8" r="0.51" fill="#f3c24a"/><circle cx="29.5" cy="-1.4" r="0.39" fill="#f3c24a"/><circle cx="1.7" cy="-0.5" r="0.47" fill="#c98a14"/><circle cx="25.5" cy="0.5" r="0.34" fill="#d4951b"/><circle cx="41.9" cy="-0.2" r="0.50" fill="#f3c24a"/><circle cx="40.7" cy="-1.2" r="0.45" fill="#d4951b"/><circle cx="4.9" cy="1.0" r="0.59" fill="#f3c24a"/><circle cx="41.9" cy="-1.1" r="0.48" fill="#c98a14"/><circle cx="24.7" cy="-1.0" r="0.41" fill="#d4951b"/><circle cx="18.2" cy="1.6" r="0.33" fill="#c98a14"/><circle cx="64.3" cy="1.0" r="0.34" fill="#d4951b"/><circle cx="15.5" cy="1.7" r="0.37" fill="#c98a14"/><circle cx="45.2" cy="0.8" r="0.33" fill="#d4951b"/><circle cx="22.0" cy="-0.9" r="0.55" fill="#f3c24a"/><circle cx="53.8" cy="2.6" r="0.32" fill="#d4951b"/><circle cx="43.4" cy="2.2" r="0.44" fill="#c98a14"/><circle cx="52.3" cy="-2.6" r="0.59" fill="#f3c24a"/><circle cx="53.6" cy="1.9" r="0.36" fill="#f3c24a"/><circle cx="23.2" cy="1.8" r="0.33" fill="#d4951b"/><circle cx="23.5" cy="-2.1" r="0.39" fill="#f3c24a"/><circle cx="31.3" cy="0.8" r="0.39" fill="#d4951b"/><circle cx="27.7" cy="2.4" r="0.35" fill="#c98a14"/><circle cx="32.1" cy="1.9" r="0.49" fill="#d4951b"/><circle cx="29.3" cy="2.5" r="0.58" fill="#c98a14"/><circle cx="3.1" cy="-0.2" r="0.53" fill="#d4951b"/><circle cx="34.8" cy="-1.2" r="0.40" fill="#c98a14"/><circle cx="57.1" cy="2.0" r="0.59" fill="#c98a14"/><circle cx="53.8" cy="-2.5" r="0.57" fill="#d4951b"/><circle cx="34.4" cy="-1.7" r="0.57" fill="#f3c24a"/><circle cx="38.6" cy="-2.7" r="0.52" fill="#c98a14"/><circle cx="33.8" cy="-1.5" r="0.31" fill="#d4951b"/><circle cx="28.0" cy="2.5" r="0.48" fill="#f3c24a"/><circle cx="9.2" cy="2.6" r="0.46" fill="#c98a14"/><circle cx="23.9" cy="-1.7" r="0.46" fill="#c98a14"/><circle cx="12.2" cy="1.6" r="0.58" fill="#c98a14"/><circle cx="54.7" cy="-2.8" r="0.49" fill="#f3c24a"/><circle cx="4.3" cy="-1.3" r="0.38" fill="#d4951b"/><circle cx="34.9" cy="-2.5" r="0.40" fill="#c98a14"/><circle cx="56.8" cy="1.5" r="0.31" fill="#c98a14"/><circle cx="5.5" cy="2.7" r="0.56" fill="#c98a14"/><circle cx="34.6" cy="-0.1" r="0.35" fill="#c98a14"/><circle cx="23.9" cy="0.8" r="0.48" fill="#f3c24a"/><circle cx="18.3" cy="2.7" r="0.43" fill="#c98a14"/><circle cx="37.2" cy="1.2" r="0.41" fill="#c98a14"/><circle cx="37.9" cy="-2.6" r="0.44" fill="#d4951b"/><circle cx="52.0" cy="-0.7" r="0.54" fill="#d4951b"/><circle cx="58.8" cy="-2.5" r="0.49" fill="#d4951b"/><circle cx="21.5" cy="2.5" r="0.43" fill="#c98a14"/><circle cx="17.0" cy="0.2" r="0.51" fill="#c98a14"/><circle cx="53.3" cy="-1.5" r="0.34" fill="#c98a14"/><circle cx="62.0" cy="-0.7" r="0.57" fill="#f3c24a"/><circle cx="8.9" cy="1.1" r="0.58" fill="#d4951b"/><circle cx="44.1" cy="2.2" r="0.54" fill="#d4951b"/><circle cx="8.1" cy="-1.0" r="0.46" fill="#d4951b"/><circle cx="47.7" cy="-0.1" r="0.37" fill="#f3c24a"/><circle cx="3.9" cy="-2.3" r="0.33" fill="#f3c24a"/><circle cx="12.7" cy="-2.7" r="0.55" fill="#c98a14"/><circle cx="2.7" cy="-2.2" r="0.44" fill="#d4951b"/><circle cx="63.0" cy="0.4" r="0.54" fill="#c98a14"/><circle cx="65.9" cy="0.4" r="0.46" fill="#c98a14"/><circle cx="8.0" cy="1.4" r="0.58" fill="#c98a14"/><circle cx="36.8" cy="2.1" r="0.35" fill="#c98a14"/><circle cx="16.8" cy="-1.8" r="0.37" fill="#d4951b"/><circle cx="46.6" cy="2.5" r="0.38" fill="#d4951b"/><circle cx="26.8" cy="-0.8" r="0.43" fill="#c98a14"/><circle cx="25.5" cy="-1.5" r="0.58" fill="#d4951b"/><circle cx="64.0" cy="-0.5" r="0.47" fill="#d4951b"/><circle cx="44.9" cy="0.1" r="0.45" fill="#d4951b"/><circle cx="27.1" cy="2.2" r="0.35" fill="#f3c24a"/><circle cx="49.7" cy="2.3" r="0.46" fill="#f3c24a"/><circle cx="39.2" cy="2.0" r="0.34" fill="#c98a14"/><circle cx="10.5" cy="0.1" r="0.58" fill="#d4951b"/><circle cx="36.1" cy="1.6" r="0.50" fill="#f3c24a"/><circle cx="39.8" cy="0.5" r="0.60" fill="#c98a14"/><circle cx="21.0" cy="-1.3" r="0.54" fill="#c98a14"/><circle cx="12.2" cy="-0.8" r="0.40" fill="#c98a14"/><circle cx="28.3" cy="1.1" r="0.51" fill="#c98a14"/><circle cx="31.5" cy="1.9" r="0.55" fill="#d4951b"/><circle cx="2.8" cy="2.8" r="0.32" fill="#f3c24a"/><circle cx="52.0" cy="2.1" r="0.31" fill="#c98a14"/><circle cx="59.0" cy="0.8" r="0.53" fill="#c98a14"/><circle cx="63.5" cy="2.0" r="0.37" fill="#c98a14"/><circle cx="51.5" cy="-2.0" r="0.49" fill="#d4951b"/><circle cx="56.9" cy="2.2" r="0.38" fill="#c98a14"/><circle cx="21.4" cy="-0.4" r="0.52" fill="#c98a14"/><circle cx="8.7" cy="-1.3" r="0.57" fill="#c98a14"/><circle cx="24.2" cy="0.4" r="0.50" fill="#c98a14"/><circle cx="2.9" cy="-0.9" r="0.41" fill="#c98a14"/><circle cx="14.7" cy="0.5" r="0.59" fill="#f3c24a"/><circle cx="9.2" cy="-1.0" r="0.57" fill="#c98a14"/><circle cx="44.4" cy="-2.2" r="0.57" fill="#f3c24a"/><circle cx="7.3" cy="2.5" r="0.41" fill="#f3c24a"/><circle cx="50.3" cy="-1.1" r="0.50" fill="#d4951b"/><circle cx="62.5" cy="1.8" r="0.33" fill="#f3c24a"/><circle cx="44.8" cy="0.2" r="0.33" fill="#f3c24a"/><circle cx="34.1" cy="-2.5" r="0.39" fill="#d4951b"/><circle cx="37.9" cy="-1.8" r="0.49" fill="#d4951b"/><circle cx="10.7" cy="-0.7" r="0.58" fill="#f3c24a"/><circle cx="9.0" cy="2.4" r="0.34" fill="#f3c24a"/><circle cx="43.0" cy="0.8" r="0.43" fill="#f3c24a"/><circle cx="43.2" cy="-0.2" r="0.39" fill="#c98a14"/><circle cx="47.0" cy="-2.2" r="0.35" fill="#d4951b"/><circle cx="36.4" cy="1.3" r="0.41" fill="#f3c24a"/><circle cx="18.6" cy="-2.5" r="0.34" fill="#f3c24a"/><circle cx="33.9" cy="-1.4" r="0.53" fill="#f3c24a"/><circle cx="58.0" cy="2.5" r="0.43" fill="#c98a14"/><circle cx="24.0" cy="1.9" r="0.33" fill="#f3c24a"/><circle cx="39.4" cy="1.0" r="0.47" fill="#d4951b"/><circle cx="8.3" cy="1.1" r="0.47" fill="#d4951b"/><circle cx="49.4" cy="1.8" r="0.52" fill="#d4951b"/><circle cx="40.6" cy="2.0" r="0.54" fill="#d4951b"/><circle cx="35.4" cy="0.4" r="0.36" fill="#f3c24a"/><circle cx="25.1" cy="-1.2" r="0.55" fill="#f3c24a"/><circle cx="59.1" cy="2.5" r="0.41" fill="#d4951b"/><circle cx="60.0" cy="-1.1" r="0.45" fill="#d4951b"/><circle cx="45.7" cy="-1.1" r="0.56" fill="#f3c24a"/><circle cx="3.0" cy="-1.7" r="0.49" fill="#c98a14"/><circle cx="51.2" cy="0.9" r="0.45" fill="#d4951b"/><circle cx="41.7" cy="-1.7" r="0.53" fill="#c98a14"/><circle cx="3.4" cy="0.0" r="0.49" fill="#f3c24a"/><circle cx="8.3" cy="-1.2" r="0.50" fill="#c98a14"/><circle cx="9.8" cy="1.6" r="0.49" fill="#c98a14"/></g>
<line x1="230.8" y1="123.9" x2="248.1" y2="117.9" stroke="#c9a0a8" stroke-width="0.5"/>
<line x1="240.7" y1="100.3" x2="249.4" y2="104.3" stroke="#b9908a" stroke-width="0.4"/>
<path d="M245.1 64 L245.1 85 L243.29999999999998 85 L246.6 91 L249.9 85 L248.1 85 L248.1 64 Z" fill="url(#arrD)"/>
<path d="M274.5 99.3 L289.8 99.3 L289.8 96.89999999999999 L295 101.6 L289.8 106.3 L289.8 103.89999999999999 L274.5 103.89999999999999 Z" fill="url(#arrR)"/>
<path d="M360.5 99.6 L377.3 99.6 L377.3 97.25 L382.3 101.85 L377.3 106.44999999999999 L377.3 104.1 L360.5 104.1 Z" fill="url(#arrR)"/>
<path d="M443 100.05 L452.8 100.05 L452.8 97.7 L457.8 102.3 L452.8 106.89999999999999 L452.8 104.55 L443 104.55 Z" fill="url(#arrR)"/>
<path d="M484.3 91.5 L484.3 77 L482.6 77 L485.6 72 L488.6 77 L486.90000000000003 77 L486.90000000000003 91.5 Z" fill="url(#arrU)"/>
<path d="M321.4 168 L321.4 172.8 L320.15 172.8 L322.4 176.3 L324.65 172.8 L323.4 172.8 L323.4 168 Z" fill="url(#arrD)"/>
<path d="M297.3 129.6 L297.6 130.1 L297.9 130.8 L298.3 131.6 L298.8 132.4 L299.3 133.4 L299.8 134.4 L300.4 135.4 L301.0 136.4 L301.7 137.4 L302.4 138.3 L303.2 139.2 L304.0 140.2 L304.8 141.2 L305.8 142.2 L306.7 143.2 L307.7 144.1 L308.7 145.1 L309.7 145.9 L310.6 146.7 L311.6 147.4 L312.6 148.0 L313.5 148.6 L314.5 149.1 L315.5 149.5 L316.5 149.9 L317.5 150.2 L318.5 150.5 L319.4 150.7 L320.4 150.9 L321.4 151.0 L322.4 151.1 L323.3 151.1 L324.3 151.0 L325.3 151.0 L326.2 150.8 L327.2 150.6 L328.2 150.3 L329.1 150.0 L330.1 149.5 L331.0 149.0 L332.0 148.4 L332.9 147.7 L333.9 146.8 L334.9 146.0 L335.9 145.0 L336.8 144.0 L337.7 142.9 L338.6 141.8 L339.4 140.7 L340.2 139.6 L340.9 138.5 L341.5 137.3 L342.1 136.1 L342.6 134.8 L343.1 133.5 L343.6 132.2 L344.0 130.8 L344.5 129.4 L344.9 127.9 L345.4 126.4 L345.9 124.7 L346.4 122.9 L346.9 121.0 L347.4 119.1 L347.9 117.1 L348.4 115.1 L348.9 113.2 L349.3 111.4 L349.7 109.7 L350.0 108.2 L350.3 106.9 L350.6 105.9 L350.8 105.0 L351.0 104.2 L351.2 103.4 L351.3 102.7 L351.4 101.9 L351.5 101.0 L351.6 100.0 L351.6 98.8 L351.6 97.4 L351.6 95.9 L351.5 94.4 L351.5 92.7 L351.3 91.0 L351.2 89.2 L351.1 87.4 L350.9 85.6 L350.7 83.8 L350.5 82.0 L350.3 80.2 L350.0 78.3 L349.8 76.4 L349.5 74.5 L349.2 72.5 L348.9 70.6 L348.6 68.7 L348.2 66.8 L347.8 65.0 L347.4 63.3 L347.0 61.6 L346.5 60.0 L346.0 58.4 L345.4 56.9 L344.9 55.3 L344.3 53.9 L343.7 52.5 L343.2 51.2 L342.6 49.9 L342.0 48.8 L341.4 47.8 L340.9 46.8 L340.3 46.0 L339.7 45.2 L339.1 44.5 L338.5 43.8 L337.9 43.2 L337.3 42.6 L336.7 42.0 L336.0 41.5 L335.3 41.0 L334.5 40.5 L333.6 40.0 L332.7 39.6 L331.9 39.2 L331.0 38.9 L330.2 38.6 L329.5 38.3 L329.0 38.1 L328.5 37.9 L328.1 38.1 L327.6 38.2 L327.0 38.5 L326.3 38.7 L325.6 39.0 L324.8 39.3 L324.1 39.6 L323.4 40.0 L322.7 40.5 L322.2 41.0 L321.7 41.6 L321.3 42.2 L320.9 42.8 L320.5 43.5 L320.1 44.2 L319.8 45.0 L319.5 45.8 L319.2 46.7 L318.9 47.7 L318.7 48.8 L318.5 50.0 L318.3 51.2 L318.2 52.5 L318.1 53.9 L318.0 55.4 L317.9 56.9 L317.8 58.4 L317.8 60.0 L317.9 61.6 L317.9 63.3 L318.0 65.0 L318.1 66.9 L318.3 68.8 L318.6 70.8 L318.8 72.7 L319.1 74.7 L319.3 76.7 L319.6 78.6 L319.8 80.3 L319.9 82.0 L320.0 83.6 L320.1 85.1 L320.2 86.6 L320.2 88.0 L320.3 89.3 L320.3 90.6 L320.3 91.8 L320.3 93.0 L320.3 94.0 L320.3 95.0 L320.2 95.9 L320.2 96.6 L320.0 97.3 L319.9 97.9 L319.8 98.4 L319.6 98.8 L319.5 99.3 L319.4 99.7 L319.3 100.1 L319.2 100.5 L319.2 100.9 L319.1 101.3 L319.1 101.7 L319.1 102.0 L319.1 102.4 L319.1 102.6 L319.1 102.9 L319.2 103.2 L319.2 103.4 L319.3 103.6 L319.4 103.8 L319.5 103.9 L319.6 104.0 L319.8 104.1 L320.0 104.1 L320.1 104.2 L320.3 104.2 L320.4 104.2 L320.5 104.3 L320.6 104.3 L320.7 104.2 L320.8 104.0 L320.9 103.9 L321.1 103.7 L321.2 103.5 L321.4 103.3 L321.6 103.0 L321.7 102.7 L321.9 102.4 L322.0 102.0 L322.1 101.6 L322.2 101.2 L322.3 100.7 L322.4 100.3 L322.5 99.7 L322.6 99.2 L322.7 98.5 L322.8 97.8 L322.9 96.9 L323.0 96.0 L323.1 94.9 L323.2 93.8 L323.3 92.5 L323.4 91.1 L323.6 89.7 L323.7 88.2 L323.8 86.6 L323.9 85.1 L323.9 83.5 L324.0 82.0 L324.0 80.4 L324.1 78.7 L324.1 76.9 L324.1 75.0 L324.1 73.2 L324.1 71.4 L324.1 69.7 L324.1 68.1 L324.1 66.6 L324.2 65.4 L324.3 64.4 L324.4 63.5 L324.5 62.8 L324.6 62.2 L324.7 61.7 L324.9 61.3 L325.0 60.9 L325.2 60.6 L325.4 60.2 L325.6 59.8 L325.8 59.4 L326.1 59.0 L326.5 58.7 L326.8 58.3 L327.1 58.0 L327.5 57.8 L327.8 57.5 L328.1 57.3 L328.3 57.2 L328.5 57.0 L328.7 57.1 L328.9 57.3 L329.2 57.5 L329.5 57.7 L329.8 57.9 L330.1 58.1 L330.5 58.4 L330.8 58.7 L331.2 59.1 L331.5 59.5 L331.8 59.9 L332.1 60.3 L332.5 60.7 L332.8 61.1 L333.1 61.6 L333.4 62.1 L333.8 62.7 L334.1 63.5 L334.4 64.4 L334.8 65.4 L335.2 66.6 L335.6 68.0 L336.1 69.6 L336.5 71.3 L337.0 73.0 L337.4 74.8 L337.8 76.7 L338.2 78.5 L338.4 80.3 L338.6 82.0 L338.7 83.7 L338.7 85.5 L338.6 87.4 L338.5 89.2 L338.4 91.1 L338.2 92.9 L338.0 94.6 L337.8 96.1 L337.6 97.6 L337.4 98.8 L337.2 99.8 L337.1 100.6 L336.9 101.2 L336.7 101.7 L336.5 102.1 L336.3 102.4 L336.1 102.8 L335.8 103.3 L335.6 103.9 L335.4 104.6 L335.2 105.5 L335.0 106.5 L334.7 107.6 L334.5 108.8 L334.3 110.0 L334.1 111.2 L333.8 112.4 L333.6 113.5 L333.3 114.6 L333.0 115.5 L332.7 116.3 L332.4 117.1 L332.1 117.9 L331.8 118.6 L331.5 119.2 L331.2 119.8 L330.8 120.4 L330.4 120.9 L330.0 121.4 L329.6 121.9 L329.2 122.4 L328.7 122.8 L328.2 123.2 L327.7 123.6 L327.2 123.9 L326.7 124.2 L326.1 124.4 L325.5 124.6 L324.9 124.6 L324.2 124.6 L323.5 124.4 L322.7 124.2 L321.9 123.8 L321.1 123.4 L320.2 122.9 L319.3 122.3 L318.5 121.7 L317.6 121.1 L316.8 120.6 L316.0 120.0 L315.2 119.4 L314.5 118.8 L313.7 118.2 L313.0 117.6 L312.3 116.9 L311.6 116.2 L310.9 115.6 L310.1 114.9 L309.4 114.3 L308.7 113.7 L307.9 113.1 L307.1 112.5 L306.3 111.8 L305.4 111.2 L304.6 110.6 L303.8 110.0 L303.1 109.4 L302.4 108.9 L301.8 108.5 L301.4 108.2 Z" fill="#2c2c28" stroke="#2c2c28" stroke-width="0.6" stroke-linejoin="round"/>
<line x1="302.4" y1="108.9" x2="297.1" y2="130.4" stroke="#45453f" stroke-width="0.55"/>
<line x1="303.3" y1="109.6" x2="296.8" y2="131.3" stroke="#2c2c28" stroke-width="0.55"/>
<line x1="304.3" y1="110.3" x2="296.8" y2="131.1" stroke="#45453f" stroke-width="0.55"/>
<line x1="305.2" y1="111.0" x2="297.7" y2="132.8" stroke="#2c2c28" stroke-width="0.55"/>
<line x1="306.2" y1="111.8" x2="298.8" y2="133.8" stroke="#45453f" stroke-width="0.55"/>
<line x1="307.1" y1="112.5" x2="299.6" y2="136.0" stroke="#2c2c28" stroke-width="0.55"/>
<line x1="308.1" y1="113.2" x2="300.6" y2="137.7" stroke="#45453f" stroke-width="0.55"/>
<line x1="309.0" y1="114.0" x2="301.8" y2="139.3" stroke="#2c2c28" stroke-width="0.55"/>
<line x1="309.9" y1="114.7" x2="302.9" y2="141.3" stroke="#45453f" stroke-width="0.55"/>
<line x1="310.8" y1="115.5" x2="304.4" y2="141.8" stroke="#2c2c28" stroke-width="0.55"/>
<line x1="311.7" y1="116.3" x2="305.5" y2="144.5" stroke="#45453f" stroke-width="0.55"/>
<line x1="312.6" y1="117.2" x2="306.9" y2="145.8" stroke="#2c2c28" stroke-width="0.55"/>
<line x1="313.5" y1="118.0" x2="308.6" y2="145.9" stroke="#45453f" stroke-width="0.55"/>
<line x1="314.4" y1="118.7" x2="310.0" y2="147.3" stroke="#2c2c28" stroke-width="0.55"/>
<line x1="315.3" y1="119.5" x2="311.4" y2="149.9" stroke="#45453f" stroke-width="0.55"/>
<line x1="316.3" y1="120.2" x2="313.2" y2="150.9" stroke="#2c2c28" stroke-width="0.55"/>
<line x1="317.2" y1="120.9" x2="315.1" y2="150.5" stroke="#45453f" stroke-width="0.55"/>
<line x1="318.2" y1="121.6" x2="316.9" y2="151.0" stroke="#2c2c28" stroke-width="0.55"/>
<line x1="319.2" y1="122.2" x2="318.8" y2="151.7" stroke="#45453f" stroke-width="0.55"/>
<line x1="320.2" y1="122.9" x2="320.8" y2="152.8" stroke="#2c2c28" stroke-width="0.55"/>
<line x1="321.2" y1="123.5" x2="322.7" y2="152.2" stroke="#45453f" stroke-width="0.55"/>
<line x1="322.3" y1="124.0" x2="324.7" y2="152.3" stroke="#2c2c28" stroke-width="0.55"/>
<line x1="323.4" y1="124.4" x2="326.7" y2="152.8" stroke="#45453f" stroke-width="0.55"/>
<line x1="324.6" y1="124.6" x2="328.6" y2="151.7" stroke="#2c2c28" stroke-width="0.55"/>
<line x1="325.8" y1="124.5" x2="330.5" y2="151.6" stroke="#45453f" stroke-width="0.55"/>
<line x1="326.9" y1="124.1" x2="332.2" y2="150.4" stroke="#2c2c28" stroke-width="0.55"/>
<line x1="327.9" y1="123.5" x2="333.7" y2="148.7" stroke="#45453f" stroke-width="0.55"/>
<line x1="328.8" y1="122.7" x2="335.2" y2="147.5" stroke="#2c2c28" stroke-width="0.55"/>
<line x1="329.7" y1="121.8" x2="336.4" y2="145.5" stroke="#45453f" stroke-width="0.55"/>
<line x1="330.4" y1="120.9" x2="338.1" y2="145.3" stroke="#2c2c28" stroke-width="0.55"/>
<line x1="331.1" y1="119.9" x2="339.1" y2="142.8" stroke="#45453f" stroke-width="0.55"/>
<line x1="331.6" y1="118.9" x2="340.4" y2="141.6" stroke="#2c2c28" stroke-width="0.55"/>
<line x1="332.1" y1="117.8" x2="341.2" y2="139.3" stroke="#45453f" stroke-width="0.55"/>
<line x1="332.6" y1="116.7" x2="342.4" y2="138.2" stroke="#2c2c28" stroke-width="0.55"/>
<line x1="333.0" y1="115.6" x2="343.4" y2="136.7" stroke="#45453f" stroke-width="0.55"/>
<line x1="333.3" y1="114.4" x2="343.9" y2="134.5" stroke="#2c2c28" stroke-width="0.55"/>
<line x1="333.6" y1="113.3" x2="344.6" y2="132.7" stroke="#45453f" stroke-width="0.55"/>
<line x1="333.9" y1="112.1" x2="344.9" y2="130.2" stroke="#2c2c28" stroke-width="0.55"/>
<line x1="334.1" y1="110.9" x2="345.7" y2="128.7" stroke="#45453f" stroke-width="0.55"/>
<line x1="334.3" y1="109.8" x2="346.8" y2="127.6" stroke="#2c2c28" stroke-width="0.55"/>
<line x1="334.6" y1="108.6" x2="347.0" y2="125.2" stroke="#45453f" stroke-width="0.55"/>
<line x1="334.8" y1="107.4" x2="347.5" y2="123.1" stroke="#2c2c28" stroke-width="0.55"/>
<line x1="335.0" y1="106.2" x2="348.1" y2="121.3" stroke="#45453f" stroke-width="0.55"/>
<line x1="335.3" y1="105.1" x2="349.2" y2="120.0" stroke="#2c2c28" stroke-width="0.55"/>
<line x1="335.6" y1="103.9" x2="349.5" y2="117.9" stroke="#45453f" stroke-width="0.55"/>
<line x1="336.1" y1="102.8" x2="349.4" y2="115.4" stroke="#2c2c28" stroke-width="0.55"/>
<line x1="336.6" y1="101.8" x2="350.0" y2="113.6" stroke="#45453f" stroke-width="0.55"/>
<line x1="337.0" y1="100.6" x2="351.1" y2="112.2" stroke="#2c2c28" stroke-width="0.55"/>
<line x1="337.3" y1="99.5" x2="351.2" y2="109.9" stroke="#45453f" stroke-width="0.55"/>
<line x1="337.5" y1="98.3" x2="351.2" y2="107.6" stroke="#2c2c28" stroke-width="0.55"/>
<line x1="337.6" y1="97.1" x2="351.5" y2="105.6" stroke="#45453f" stroke-width="0.55"/>
<line x1="337.8" y1="95.9" x2="352.7" y2="104.1" stroke="#2c2c28" stroke-width="0.55"/>
<line x1="338.0" y1="94.8" x2="352.9" y2="102.0" stroke="#45453f" stroke-width="0.55"/>
<line x1="338.1" y1="93.6" x2="353.3" y2="100.1" stroke="#2c2c28" stroke-width="0.55"/>
<line x1="338.2" y1="92.4" x2="352.6" y2="97.8" stroke="#45453f" stroke-width="0.55"/>
<line x1="338.4" y1="91.2" x2="353.3" y2="96.1" stroke="#2c2c28" stroke-width="0.55"/>
<line x1="338.5" y1="90.0" x2="352.9" y2="94.0" stroke="#45453f" stroke-width="0.55"/>
<line x1="338.5" y1="88.8" x2="352.5" y2="91.9" stroke="#2c2c28" stroke-width="0.55"/>
<line x1="338.6" y1="87.6" x2="353.4" y2="90.1" stroke="#45453f" stroke-width="0.55"/>
<line x1="338.7" y1="86.4" x2="352.5" y2="87.9" stroke="#2c2c28" stroke-width="0.55"/>
<line x1="338.7" y1="85.2" x2="352.2" y2="85.9" stroke="#45453f" stroke-width="0.55"/>
<line x1="338.7" y1="84.0" x2="351.6" y2="83.9" stroke="#2c2c28" stroke-width="0.55"/>
<line x1="338.6" y1="82.8" x2="352.4" y2="81.8" stroke="#45453f" stroke-width="0.55"/>
<line x1="338.6" y1="81.7" x2="351.4" y2="79.9" stroke="#2c2c28" stroke-width="0.55"/>
<line x1="338.4" y1="80.5" x2="350.9" y2="78.0" stroke="#45453f" stroke-width="0.55"/>
<line x1="338.3" y1="79.3" x2="351.3" y2="75.8" stroke="#2c2c28" stroke-width="0.55"/>
<line x1="338.1" y1="78.1" x2="351.6" y2="73.6" stroke="#45453f" stroke-width="0.55"/>
<line x1="337.9" y1="76.9" x2="351.3" y2="71.6" stroke="#2c2c28" stroke-width="0.55"/>
<line x1="337.6" y1="75.8" x2="350.0" y2="70.0" stroke="#45453f" stroke-width="0.55"/>
<line x1="337.4" y1="74.6" x2="349.8" y2="67.9" stroke="#2c2c28" stroke-width="0.55"/>
<line x1="337.1" y1="73.4" x2="349.1" y2="66.1" stroke="#45453f" stroke-width="0.55"/>
<line x1="336.8" y1="72.3" x2="348.9" y2="64.0" stroke="#2c2c28" stroke-width="0.55"/>
<line x1="336.5" y1="71.1" x2="348.1" y2="62.3" stroke="#45453f" stroke-width="0.55"/>
<line x1="336.2" y1="70.0" x2="348.5" y2="59.6" stroke="#2c2c28" stroke-width="0.55"/>
<line x1="335.8" y1="68.8" x2="347.5" y2="58.0" stroke="#45453f" stroke-width="0.55"/>
<line x1="335.5" y1="67.7" x2="347.1" y2="55.8" stroke="#2c2c28" stroke-width="0.55"/>
<line x1="335.2" y1="66.5" x2="345.8" y2="54.6" stroke="#45453f" stroke-width="0.55"/>
<line x1="334.8" y1="65.4" x2="345.7" y2="51.8" stroke="#2c2c28" stroke-width="0.55"/>
<line x1="334.4" y1="64.3" x2="344.8" y2="50.0" stroke="#45453f" stroke-width="0.55"/>
<line x1="334.0" y1="63.2" x2="343.8" y2="48.4" stroke="#2c2c28" stroke-width="0.55"/>
<line x1="333.4" y1="62.1" x2="343.0" y2="46.4" stroke="#45453f" stroke-width="0.55"/>
<line x1="332.8" y1="61.1" x2="341.6" y2="45.4" stroke="#2c2c28" stroke-width="0.55"/>
<line x1="332.0" y1="60.2" x2="340.5" y2="43.7" stroke="#45453f" stroke-width="0.55"/>
<line x1="331.3" y1="59.2" x2="338.8" y2="42.9" stroke="#2c2c28" stroke-width="0.55"/>
<line x1="330.4" y1="58.4" x2="337.5" y2="41.1" stroke="#45453f" stroke-width="0.55"/>
<line x1="329.5" y1="57.7" x2="336.3" y2="38.9" stroke="#2c2c28" stroke-width="0.55"/>
<line x1="328.5" y1="57.0" x2="334.3" y2="38.9" stroke="#45453f" stroke-width="0.55"/>
<line x1="327.5" y1="57.8" x2="326.8" y2="38.5" stroke="#45453f" stroke-width="0.4"/>
<line x1="325.7" y1="59.6" x2="323.4" y2="40.0" stroke="#45453f" stroke-width="0.4"/>
<line x1="324.7" y1="61.9" x2="320.9" y2="42.8" stroke="#45453f" stroke-width="0.4"/>
<line x1="324.3" y1="64.4" x2="319.4" y2="46.1" stroke="#45453f" stroke-width="0.4"/>
<line x1="324.1" y1="66.9" x2="318.5" y2="49.7" stroke="#45453f" stroke-width="0.4"/>
<line x1="324.1" y1="69.4" x2="318.1" y2="53.4" stroke="#45453f" stroke-width="0.4"/>
<line x1="324.1" y1="71.9" x2="317.9" y2="57.1" stroke="#45453f" stroke-width="0.4"/>
<line x1="324.1" y1="74.5" x2="317.8" y2="60.9" stroke="#45453f" stroke-width="0.4"/>
<line x1="324.1" y1="77.0" x2="318.0" y2="64.6" stroke="#45453f" stroke-width="0.4"/>
<line x1="324.1" y1="79.5" x2="318.3" y2="68.3" stroke="#45453f" stroke-width="0.4"/>
<line x1="324.0" y1="82.1" x2="318.7" y2="72.0" stroke="#45453f" stroke-width="0.4"/>
<line x1="323.9" y1="84.6" x2="319.2" y2="75.6" stroke="#45453f" stroke-width="0.4"/>
<line x1="323.7" y1="87.1" x2="319.6" y2="79.3" stroke="#45453f" stroke-width="0.4"/>
<line x1="323.6" y1="89.6" x2="320.0" y2="83.0" stroke="#45453f" stroke-width="0.4"/>
<line x1="323.3" y1="92.2" x2="320.2" y2="86.7" stroke="#45453f" stroke-width="0.4"/>
<line x1="323.1" y1="94.7" x2="320.3" y2="90.4" stroke="#45453f" stroke-width="0.4"/>
<line x1="322.9" y1="97.2" x2="320.3" y2="94.2" stroke="#45453f" stroke-width="0.4"/>
<g transform="translate(299.4 119.2) rotate(-22)"><ellipse cx="0" cy="0" rx="4.8" ry="10" fill="#e2a224"/></g>
<g transform="translate(295.6 115.5) rotate(-20)"><ellipse cx="0" cy="0" rx="3.4" ry="6.2" fill="#e0237a"/><ellipse cx="-0.6" cy="-0.6" rx="1.7" ry="3.6" fill="#ea4a92"/></g>
<path d="M412.4 64.8 L445.4 88.6 L430.6 134.6 L388.6 98.2 Z" fill="#2a2a27" fill-opacity="0.55"/>
<line x1="444.8" y1="90.5" x2="445.8" y2="91.2" stroke="#e4452a" stroke-width="2.1" stroke-linecap="round"/>
<line x1="443.5" y1="94.3" x2="444.6" y2="95.1" stroke="#e4452a" stroke-width="2.1" stroke-linecap="round"/>
<line x1="442.3" y1="98.2" x2="443.4" y2="99.0" stroke="#e4452a" stroke-width="2.1" stroke-linecap="round"/>
<line x1="441.1" y1="102.0" x2="442.2" y2="102.8" stroke="#e4452a" stroke-width="2.1" stroke-linecap="round"/>
<line x1="439.9" y1="105.8" x2="440.9" y2="106.7" stroke="#e4452a" stroke-width="2.1" stroke-linecap="round"/>
<line x1="438.6" y1="109.7" x2="439.7" y2="110.6" stroke="#e4452a" stroke-width="2.1" stroke-linecap="round"/>
<line x1="437.4" y1="113.5" x2="438.5" y2="114.4" stroke="#e4452a" stroke-width="2.1" stroke-linecap="round"/>
<line x1="436.1" y1="117.3" x2="437.3" y2="118.3" stroke="#e4452a" stroke-width="2.1" stroke-linecap="round"/>
<line x1="434.9" y1="121.2" x2="436.1" y2="122.2" stroke="#e4452a" stroke-width="2.1" stroke-linecap="round"/>
<line x1="433.7" y1="125.0" x2="434.9" y2="126.0" stroke="#e4452a" stroke-width="2.1" stroke-linecap="round"/>
<line x1="432.5" y1="128.8" x2="433.7" y2="129.9" stroke="#e4452a" stroke-width="2.1" stroke-linecap="round"/>
<line x1="431.2" y1="132.7" x2="432.5" y2="133.8" stroke="#e4452a" stroke-width="2.1" stroke-linecap="round"/>
<line x1="390.4" y1="99.7" x2="389.5" y2="100.9" stroke="#e4452a" stroke-width="2.1" stroke-linecap="round"/>
<line x1="393.9" y1="102.8" x2="393.1" y2="104.0" stroke="#e4452a" stroke-width="2.1" stroke-linecap="round"/>
<line x1="397.4" y1="105.8" x2="396.6" y2="107.0" stroke="#e4452a" stroke-width="2.1" stroke-linecap="round"/>
<line x1="400.9" y1="108.8" x2="400.1" y2="110.1" stroke="#e4452a" stroke-width="2.1" stroke-linecap="round"/>
<line x1="404.4" y1="111.8" x2="403.6" y2="113.2" stroke="#e4452a" stroke-width="2.1" stroke-linecap="round"/>
<line x1="407.9" y1="114.9" x2="407.2" y2="116.3" stroke="#e4452a" stroke-width="2.1" stroke-linecap="round"/>
<line x1="411.4" y1="117.9" x2="410.7" y2="119.3" stroke="#e4452a" stroke-width="2.1" stroke-linecap="round"/>
<line x1="414.9" y1="120.9" x2="414.2" y2="122.4" stroke="#e4452a" stroke-width="2.1" stroke-linecap="round"/>
<line x1="418.4" y1="124.0" x2="417.7" y2="125.5" stroke="#e4452a" stroke-width="2.1" stroke-linecap="round"/>
<line x1="421.9" y1="127.0" x2="421.3" y2="128.5" stroke="#e4452a" stroke-width="2.1" stroke-linecap="round"/>
<line x1="425.4" y1="130.1" x2="424.8" y2="131.6" stroke="#e4452a" stroke-width="2.1" stroke-linecap="round"/>
<line x1="428.9" y1="133.1" x2="428.3" y2="134.7" stroke="#e4452a" stroke-width="2.1" stroke-linecap="round"/>
<line x1="410.9" y1="65.8" x2="444.8" y2="90.5" stroke="#363632" stroke-width="2.35" stroke-linecap="round"/>
<line x1="408.9" y1="68.6" x2="443.5" y2="94.3" stroke="#363632" stroke-width="2.35" stroke-linecap="round"/>
<line x1="406.9" y1="71.4" x2="442.3" y2="98.2" stroke="#363632" stroke-width="2.35" stroke-linecap="round"/>
<line x1="404.9" y1="74.1" x2="441.1" y2="102.0" stroke="#363632" stroke-width="2.35" stroke-linecap="round"/>
<line x1="402.9" y1="76.9" x2="439.9" y2="105.8" stroke="#363632" stroke-width="2.35" stroke-linecap="round"/>
<line x1="400.9" y1="79.7" x2="438.6" y2="109.7" stroke="#363632" stroke-width="2.35" stroke-linecap="round"/>
<line x1="398.9" y1="82.4" x2="437.4" y2="113.5" stroke="#363632" stroke-width="2.35" stroke-linecap="round"/>
<line x1="396.9" y1="85.2" x2="436.1" y2="117.3" stroke="#363632" stroke-width="2.35" stroke-linecap="round"/>
<line x1="395.0" y1="88.0" x2="434.9" y2="121.2" stroke="#363632" stroke-width="2.35" stroke-linecap="round"/>
<line x1="393.0" y1="90.7" x2="433.7" y2="125.0" stroke="#363632" stroke-width="2.35" stroke-linecap="round"/>
<line x1="391.0" y1="93.5" x2="432.5" y2="128.8" stroke="#363632" stroke-width="2.35" stroke-linecap="round"/>
<line x1="389.0" y1="96.3" x2="431.2" y2="132.7" stroke="#363632" stroke-width="2.35" stroke-linecap="round"/>
<line x1="414.1" y1="65.3" x2="390.4" y2="99.7" stroke="#3a3a36" stroke-width="2.35" stroke-linecap="round"/>
<line x1="416.9" y1="67.3" x2="393.9" y2="102.8" stroke="#3a3a36" stroke-width="2.35" stroke-linecap="round"/>
<line x1="419.6" y1="69.2" x2="397.4" y2="105.8" stroke="#3a3a36" stroke-width="2.35" stroke-linecap="round"/>
<line x1="422.3" y1="71.2" x2="400.9" y2="108.8" stroke="#3a3a36" stroke-width="2.35" stroke-linecap="round"/>
<line x1="425.1" y1="73.2" x2="404.4" y2="111.8" stroke="#3a3a36" stroke-width="2.35" stroke-linecap="round"/>
<line x1="427.8" y1="75.1" x2="407.9" y2="114.9" stroke="#3a3a36" stroke-width="2.35" stroke-linecap="round"/>
<line x1="430.6" y1="77.1" x2="411.4" y2="117.9" stroke="#3a3a36" stroke-width="2.35" stroke-linecap="round"/>
<line x1="433.3" y1="79.1" x2="414.9" y2="120.9" stroke="#3a3a36" stroke-width="2.35" stroke-linecap="round"/>
<line x1="436.0" y1="81.0" x2="418.4" y2="124.0" stroke="#3a3a36" stroke-width="2.35" stroke-linecap="round"/>
<line x1="438.8" y1="83.0" x2="421.9" y2="127.0" stroke="#3a3a36" stroke-width="2.35" stroke-linecap="round"/>
<line x1="441.5" y1="85.0" x2="425.4" y2="130.1" stroke="#3a3a36" stroke-width="2.35" stroke-linecap="round"/>
<line x1="444.3" y1="86.9" x2="428.9" y2="133.1" stroke="#3a3a36" stroke-width="2.35" stroke-linecap="round"/>
<line x1="410.9" y1="65.8" x2="444.8" y2="90.5" stroke="#5c5c55" stroke-width="1.3" stroke-dasharray="2.37 4.41" stroke-dashoffset="0.00"/>
<line x1="408.9" y1="68.6" x2="443.5" y2="94.3" stroke="#5c5c55" stroke-width="1.3" stroke-dasharray="2.37 4.41" stroke-dashoffset="3.39"/>
<line x1="406.9" y1="71.4" x2="442.3" y2="98.2" stroke="#5c5c55" stroke-width="1.3" stroke-dasharray="2.37 4.41" stroke-dashoffset="0.00"/>
<line x1="404.9" y1="74.1" x2="441.1" y2="102.0" stroke="#5c5c55" stroke-width="1.3" stroke-dasharray="2.37 4.41" stroke-dashoffset="3.39"/>
<line x1="402.9" y1="76.9" x2="439.9" y2="105.8" stroke="#5c5c55" stroke-width="1.3" stroke-dasharray="2.37 4.41" stroke-dashoffset="0.00"/>
<line x1="400.9" y1="79.7" x2="438.6" y2="109.7" stroke="#5c5c55" stroke-width="1.3" stroke-dasharray="2.37 4.41" stroke-dashoffset="3.39"/>
<line x1="398.9" y1="82.4" x2="437.4" y2="113.5" stroke="#5c5c55" stroke-width="1.3" stroke-dasharray="2.37 4.41" stroke-dashoffset="0.00"/>
<line x1="396.9" y1="85.2" x2="436.1" y2="117.3" stroke="#5c5c55" stroke-width="1.3" stroke-dasharray="2.37 4.41" stroke-dashoffset="3.39"/>
<line x1="395.0" y1="88.0" x2="434.9" y2="121.2" stroke="#5c5c55" stroke-width="1.3" stroke-dasharray="2.37 4.41" stroke-dashoffset="0.00"/>
<line x1="393.0" y1="90.7" x2="433.7" y2="125.0" stroke="#5c5c55" stroke-width="1.3" stroke-dasharray="2.37 4.41" stroke-dashoffset="3.39"/>
<line x1="391.0" y1="93.5" x2="432.5" y2="128.8" stroke="#5c5c55" stroke-width="1.3" stroke-dasharray="2.37 4.41" stroke-dashoffset="0.00"/>
<line x1="389.0" y1="96.3" x2="431.2" y2="132.7" stroke="#5c5c55" stroke-width="1.3" stroke-dasharray="2.37 4.41" stroke-dashoffset="3.39"/>
<line x1="414.1" y1="65.3" x2="390.4" y2="99.7" stroke="#55554f" stroke-width="1.3" stroke-dasharray="2.39 4.44" stroke-dashoffset="3.42"/>
<line x1="416.9" y1="67.3" x2="393.9" y2="102.8" stroke="#55554f" stroke-width="1.3" stroke-dasharray="2.39 4.44" stroke-dashoffset="0.00"/>
<line x1="419.6" y1="69.2" x2="397.4" y2="105.8" stroke="#55554f" stroke-width="1.3" stroke-dasharray="2.39 4.44" stroke-dashoffset="3.42"/>
<line x1="422.3" y1="71.2" x2="400.9" y2="108.8" stroke="#55554f" stroke-width="1.3" stroke-dasharray="2.39 4.44" stroke-dashoffset="0.00"/>
<line x1="425.1" y1="73.2" x2="404.4" y2="111.8" stroke="#55554f" stroke-width="1.3" stroke-dasharray="2.39 4.44" stroke-dashoffset="3.42"/>
<line x1="427.8" y1="75.1" x2="407.9" y2="114.9" stroke="#55554f" stroke-width="1.3" stroke-dasharray="2.39 4.44" stroke-dashoffset="0.00"/>
<line x1="430.6" y1="77.1" x2="411.4" y2="117.9" stroke="#55554f" stroke-width="1.3" stroke-dasharray="2.39 4.44" stroke-dashoffset="3.42"/>
<line x1="433.3" y1="79.1" x2="414.9" y2="120.9" stroke="#55554f" stroke-width="1.3" stroke-dasharray="2.39 4.44" stroke-dashoffset="0.00"/>
<line x1="436.0" y1="81.0" x2="418.4" y2="124.0" stroke="#55554f" stroke-width="1.3" stroke-dasharray="2.39 4.44" stroke-dashoffset="3.42"/>
<line x1="438.8" y1="83.0" x2="421.9" y2="127.0" stroke="#55554f" stroke-width="1.3" stroke-dasharray="2.39 4.44" stroke-dashoffset="0.00"/>
<line x1="441.5" y1="85.0" x2="425.4" y2="130.1" stroke="#55554f" stroke-width="1.3" stroke-dasharray="2.39 4.44" stroke-dashoffset="3.42"/>
<line x1="444.3" y1="86.9" x2="428.9" y2="133.1" stroke="#55554f" stroke-width="1.3" stroke-dasharray="2.39 4.44" stroke-dashoffset="0.00"/>
<circle cx="435.5" cy="100.5" r="4" fill="none" stroke="#4a9ab8" stroke-width="0.7" stroke-dasharray="1.6 0.7"/>
<defs><linearGradient id="seng" x1="0" y1="0" x2="1" y2="0.6"><stop offset="0" stop-color="#2e2e2b"/><stop offset="0.6" stop-color="#262624"/><stop offset="1" stop-color="#3a3a36"/></linearGradient><linearGradient id="nfg" x1="0" y1="0" x2="0" y2="1"><stop offset="0" stop-color="#dedede"/><stop offset="0.55" stop-color="#bdbdbd"/><stop offset="1" stop-color="#9a9a9a"/></linearGradient></defs>
<path d="M482.6 107 Q485 113 487.6 119.4" fill="none" stroke="#242422" stroke-width="9.4" stroke-linecap="round"/>
<g transform="translate(488.6 120.4) rotate(-18)"><ellipse rx="4" ry="5.1" fill="#e99a1f"/><ellipse cx="0.4" cy="0.5" rx="2.9" ry="3.9" fill="#dd2a72"/></g>
<path d="M461.5 102.3 C465 98.5 472 94.2 478 92.6 C483 91.2 489 91.1 494 92.6 C500 94.4 506 97.8 509.5 101.6 C510.6 104 510.4 107.5 508.8 111 C508.2 112.3 507.4 113.1 506.6 113.1 C503.5 111 500.5 109.8 498 109 C494 108 489.5 107.9 485.8 108.4 C482 109 478.5 110.2 475 111.8 C471.5 113.5 468.5 115.2 466.2 116.5 C464.8 117.2 463.6 117 462.6 115.6 C460.6 112.5 459.8 108.5 460.2 105.5 C460.4 104.2 460.8 103.1 461.5 102.3 Z" fill="url(#seng)"/>
<g transform="translate(462 110.3) rotate(14)"><ellipse rx="2.7" ry="5.8" fill="#e99a1f"/><ellipse cx="-0.5" cy="0.5" rx="1.7" ry="4.1" fill="#dd2a72"/></g>
<g transform="translate(509.7 106.4) rotate(-16)"><ellipse rx="1.5" ry="4.8" fill="#e99a1f"/><ellipse cx="0.4" cy="0.6" rx="0.8" ry="3" fill="#dd2a72"/></g>
<path d="M492.6 110.4 L504.1 128.7" fill="none" stroke="#111" stroke-width="1.5"/><path d="M504.1 128.7 L500 111.8" fill="none" stroke="#111" stroke-width="0.9"/>
<path d="M462.8 116.5 L462.8 124.6 L469.4 124.6 M469.9 126.6 L472.4 122.4 M472.3 124.6 L474.3 124.6 L474.3 119.9 L478.4 119.9 L478.4 113.5" fill="none" stroke="#111" stroke-width="0.9"/>
<ellipse cx="485.3" cy="96.2" rx="3" ry="4.4" fill="none" stroke="#3f8fd8" stroke-width="0.6" stroke-dasharray="1.6 0.7"/>
<path d="M467 58.5 C468 54.5 469.4 51.6 471.4 49.2 C473.5 46.8 476 45.2 479 44.3 C481.3 43.2 483.6 42.6 486 42.6 C488.4 42.6 490.8 43.2 493.2 44.3 C496.2 45.4 498.8 47 500.8 49.2 C502.8 51.4 504.4 54 505.2 56.8 L500.3 63.4 C499.4 61.8 498.4 60.4 497 59 C495.6 57.4 494 56 492 54.6 C492.3 56.6 492.3 58.8 492 61.2 C492.2 63.8 492.1 66.4 491.5 68.8 L488.3 71.5 C486.6 70.6 485.2 69.4 484 67.7 C482.8 66.2 481.9 64.4 481.2 62.3 C480.7 60.2 480.5 58 480.6 55.7 C479.2 56.4 477.9 57.3 476.8 58.5 C475.2 60 473.8 61.8 472.5 64 Z" fill="url(#nfg)"/>
<path d="M469.5 57 C471 51.5 475 46.5 486 45 C496 46 500.5 51 503 56.5" fill="none" stroke="#e6e6e6" stroke-width="2.2" opacity="0.75"/>
<path d="M486.2 56 C486.5 61 487.4 65.5 488.6 69" fill="none" stroke="#e0e0e0" stroke-width="3" opacity="0.7"/>
<line x1="471.4" y1="58.5" x2="478.5" y2="51.4" stroke="#1a1a1a" stroke-width="0.75"/>
<line x1="475.2" y1="47.5" x2="483.9" y2="50.8" stroke="#1a1a1a" stroke-width="0.75"/>
<line x1="485.5" y1="47.5" x2="493.2" y2="44.8" stroke="#1a1a1a" stroke-width="0.75"/>
<line x1="486.6" y1="51.4" x2="493.7" y2="50.3" stroke="#1a1a1a" stroke-width="0.75"/>
<line x1="495.4" y1="48.1" x2="500.8" y2="55.7" stroke="#1a1a1a" stroke-width="0.75"/>
<line x1="483.9" y1="55.2" x2="481.7" y2="62.8" stroke="#1a1a1a" stroke-width="0.75"/>
<line x1="484.5" y1="58.5" x2="487.2" y2="67.7" stroke="#1a1a1a" stroke-width="0.75"/>
<line x1="487.7" y1="56.3" x2="490.5" y2="63.9" stroke="#1a1a1a" stroke-width="0.75"/>
<path d="M466.5 49.7 L475.2 47.5 M466.5 50.3 L471.9 54.6" stroke="#111" stroke-width="0.6" fill="none"/>
<line x1="503.5" y1="36.1" x2="501.4" y2="52.5" stroke="#111" stroke-width="0.6"/>
<text x="10.7" y="201.2" font-family='"Liberation Sans", Arial, sans-serif' font-size="11.6" font-weight="bold" text-anchor="start" fill="#0a0a0a" textLength="17.2" lengthAdjust="spacingAndGlyphs" >(d)</text>
<rect x="50.5" y="207.8" width="181.5" height="134.89999999999998" fill="#fff" stroke="#222" stroke-width="0.9"/>
<line x1="50.5" y1="340.50" x2="52.7" y2="340.50" stroke="#222" stroke-width="0.7"/>
<text x="47" y="343.2" font-family='"Liberation Sans", Arial, sans-serif' font-size="7.5" font-weight="bold" text-anchor="end" fill="#111" stroke="#111" stroke-width="0.2">0</text>
<line x1="50.5" y1="330.27" x2="51.8" y2="330.27" stroke="#222" stroke-width="0.6"/>
<line x1="50.5" y1="320.04" x2="52.7" y2="320.04" stroke="#222" stroke-width="0.7"/>
<text x="47" y="322.74" font-family='"Liberation Sans", Arial, sans-serif' font-size="7.5" font-weight="bold" text-anchor="end" fill="#111" stroke="#111" stroke-width="0.2">100</text>
<line x1="50.5" y1="309.81" x2="51.8" y2="309.81" stroke="#222" stroke-width="0.6"/>
<line x1="50.5" y1="299.58" x2="52.7" y2="299.58" stroke="#222" stroke-width="0.7"/>
<text x="47" y="302.28" font-family='"Liberation Sans", Arial, sans-serif' font-size="7.5" font-weight="bold" text-anchor="end" fill="#111" stroke="#111" stroke-width="0.2">200</text>
<line x1="50.5" y1="289.35" x2="51.8" y2="289.35" stroke="#222" stroke-width="0.6"/>
<line x1="50.5" y1="279.12" x2="52.7" y2="279.12" stroke="#222" stroke-width="0.7"/>
<text x="47" y="281.82" font-family='"Liberation Sans", Arial, sans-serif' font-size="7.5" font-weight="bold" text-anchor="end" fill="#111" stroke="#111" stroke-width="0.2">300</text>
<line x1="50.5" y1="268.89" x2="51.8" y2="268.89" stroke="#222" stroke-width="0.6"/>
<line x1="50.5" y1="258.66" x2="52.7" y2="258.66" stroke="#222" stroke-width="0.7"/>
<text x="47" y="261.35999999999996" font-family='"Liberation Sans", Arial, sans-serif' font-size="7.5" font-weight="bold" text-anchor="end" fill="#111" stroke="#111" stroke-width="0.2">400</text>
<line x1="50.5" y1="248.43" x2="51.8" y2="248.43" stroke="#222" stroke-width="0.6"/>
<line x1="50.5" y1="238.20" x2="52.7" y2="238.20" stroke="#222" stroke-width="0.7"/>
<text x="47" y="240.89999999999998" font-family='"Liberation Sans", Arial, sans-serif' font-size="7.5" font-weight="bold" text-anchor="end" fill="#111" stroke="#111" stroke-width="0.2">500</text>
<line x1="50.5" y1="227.97" x2="51.8" y2="227.97" stroke="#222" stroke-width="0.6"/>
<line x1="50.5" y1="217.74" x2="52.7" y2="217.74" stroke="#222" stroke-width="0.7"/>
<text x="47" y="220.44" font-family='"Liberation Sans", Arial, sans-serif' font-size="7.5" font-weight="bold" text-anchor="end" fill="#111" stroke="#111" stroke-width="0.2">600</text>
<line x1="56.80" y1="342.7" x2="56.80" y2="340.5" stroke="#222" stroke-width="0.7"/>
<text x="56.8" y="352" font-family='"Liberation Sans", Arial, sans-serif' font-size="7.5" font-weight="bold" text-anchor="middle" fill="#111" stroke="#111" stroke-width="0.2">0</text>
<line x1="72.36" y1="342.7" x2="72.36" y2="341.4" stroke="#222" stroke-width="0.6"/>
<line x1="87.93" y1="342.7" x2="87.93" y2="340.5" stroke="#222" stroke-width="0.7"/>
<text x="87.93" y="352" font-family='"Liberation Sans", Arial, sans-serif' font-size="7.5" font-weight="bold" text-anchor="middle" fill="#111" stroke="#111" stroke-width="0.2">50</text>
<line x1="103.50" y1="342.7" x2="103.50" y2="341.4" stroke="#222" stroke-width="0.6"/>
<line x1="119.06" y1="342.7" x2="119.06" y2="340.5" stroke="#222" stroke-width="0.7"/>
<text x="119.06" y="352" font-family='"Liberation Sans", Arial, sans-serif' font-size="7.5" font-weight="bold" text-anchor="middle" fill="#111" stroke="#111" stroke-width="0.2">100</text>
<line x1="134.62" y1="342.7" x2="134.62" y2="341.4" stroke="#222" stroke-width="0.6"/>
<line x1="150.19" y1="342.7" x2="150.19" y2="340.5" stroke="#222" stroke-width="0.7"/>
<text x="150.19" y="352" font-family='"Liberation Sans", Arial, sans-serif' font-size="7.5" font-weight="bold" text-anchor="middle" fill="#111" stroke="#111" stroke-width="0.2">150</text>
<line x1="165.75" y1="342.7" x2="165.75" y2="341.4" stroke="#222" stroke-width="0.6"/>
<line x1="181.32" y1="342.7" x2="181.32" y2="340.5" stroke="#222" stroke-width="0.7"/>
<text x="181.32" y="352" font-family='"Liberation Sans", Arial, sans-serif' font-size="7.5" font-weight="bold" text-anchor="middle" fill="#111" stroke="#111" stroke-width="0.2">200</text>
<line x1="196.88" y1="342.7" x2="196.88" y2="341.4" stroke="#222" stroke-width="0.6"/>
<line x1="212.45" y1="342.7" x2="212.45" y2="340.5" stroke="#222" stroke-width="0.7"/>
<text x="212.45" y="352" font-family='"Liberation Sans", Arial, sans-serif' font-size="7.5" font-weight="bold" text-anchor="middle" fill="#111" stroke="#111" stroke-width="0.2">250</text>
<text x="145.8" y="367" font-family='"Liberation Sans", Arial, sans-serif' font-size="10.5" font-weight="bold" text-anchor="middle" fill="#111" stroke="#111" stroke-width="0.2">Strain (%)</text>
<path d="M94.2 333.3 L95.3 333.0 L96.3 332.7 L97.2 332.4 L98.1 332.1 L99.1 331.8 L100.2 331.3 L101.6 330.8 L103.2 330.0 L105.2 329.1 L107.6 328.0 L110.1 326.8 L112.9 325.4 L115.6 324.1 L118.2 322.8 L120.6 321.6 L122.7 320.5 L124.4 319.6 L126.0 318.8 L127.3 318.1 L128.6 317.4 L129.7 316.8 L130.8 316.2 L132.0 315.5 L133.2 314.8 L134.5 314.1 L135.7 313.3 L137.0 312.5 L138.2 311.8 L139.5 311.0 L140.7 310.2 L141.9 309.5 L143.2 308.8 L144.4 308.0 L145.8 307.3 L147.1 306.6 L148.4 305.9 L149.7 305.2 L150.9 304.6 L152.1 303.9 L153.2 303.2 L154.2 302.6 L155.2 302.0 L156.0 301.4 L156.9 300.8 L157.7 300.2 L158.5 299.6 L159.4 299.0 L160.2 298.3 L161.2 297.7 L162.1 297.0 L163.1 296.3 L164.0 295.5 L165.0 294.8 L165.9 294.1 L166.8 293.3 L167.6 292.5 L168.3 291.7 L169.0 290.9 L169.7 290.0 L170.3 289.2 L170.9 288.3 L171.4 287.4 L172.1 286.4 L172.7 285.4 L173.4 284.4 L174.0 283.3 L174.7 282.2 L175.4 281.1 L176.1 279.9 L176.8 278.8 L177.4 277.7 L178.0 276.6 L178.6 275.6 L179.1 274.6 L179.6 273.7 L180.1 272.7 L180.5 271.8 L181.0 270.9 L181.4 270.0 L181.9 269.1 L182.3 268.2 L182.8 267.5 L183.1 266.7 L183.5 266.0 L183.9 265.2 L184.4 264.3 L184.9 263.3 L185.5 262.1 L186.1 260.7 L186.8 259.3 L187.6 257.7 L188.4 256.0 L189.3 254.2 L190.1 252.2 L190.9 250.2 L191.7 248.0 L192.5 245.5 L193.3 242.6 L194.1 239.5 L195.0 236.3 L195.7 233.2 L196.4 230.4 L197.0 228.0 L197.5 226.3" fill="none" stroke="#2e4a2e" stroke-width="0.8" stroke-dasharray="2.2 1.6"/>
<path d="M58.6 342.3 L59.1 342.3 L59.7 342.2 L60.5 342.1 L61.3 342.1 L62.2 342.0 L63.1 341.9 L64.0 341.8 L64.8 341.7 L65.6 341.6 L66.4 341.4 L67.2 341.3 L67.9 341.1 L68.7 341.0 L69.5 340.8 L70.3 340.6 L71.1 340.5 L71.8 340.3 L72.6 340.1 L73.4 339.9 L74.2 339.7 L74.9 339.5 L75.7 339.3 L76.5 339.0 L77.3 338.8 L78.0 338.6 L78.8 338.4 L79.5 338.2 L80.2 338.0 L80.9 337.7 L81.7 337.5 L82.6 337.2 L83.5 337.0 L84.5 336.7 L85.6 336.4 L86.8 336.1 L88.0 335.7 L89.2 335.4 L90.5 335.0 L91.7 334.7 L92.8 334.3 L93.9 334.0 L94.9 333.7 L95.8 333.4 L96.7 333.1 L97.7 332.8 L98.8 332.3 L100.2 331.8 L101.8 331.0 L103.8 330.1 L106.2 329.0 L108.7 327.8 L111.5 326.4 L114.2 325.1 L116.8 323.8 L119.2 322.6 L121.3 321.5 L123.0 320.6 L124.6 319.8 L125.9 319.1 L127.2 318.4 L128.3 317.8 L129.4 317.2 L130.6 316.5 L131.8 315.8 L133.1 315.1 L134.3 314.3 L135.6 313.5 L136.8 312.8 L138.1 312.0 L139.3 311.2 L140.5 310.5 L141.8 309.8 L143.0 309.0 L144.4 308.3 L145.7 307.6 L147.0 306.9 L148.3 306.2 L149.5 305.6 L150.7 304.9 L151.8 304.2 L152.8 303.6 L153.8 303.0 L154.6 302.4 L155.5 301.8 L156.3 301.2 L157.1 300.6 L158.0 300.0 L158.8 299.3 L159.8 298.7 L160.7 298.0 L161.7 297.3 L162.6 296.5 L163.6 295.8 L164.5 295.1 L165.4 294.3 L166.2 293.5 L166.9 292.7 L167.6 291.9 L168.3 291.0 L168.9 290.2 L169.5 289.3 L170.0 288.4 L170.7 287.4 L171.3 286.4 L172.0 285.4 L172.6 284.3 L173.3 283.2 L174.0 282.1 L174.7 280.9 L175.4 279.8 L176.0 278.7 L176.6 277.6 L177.2 276.6 L177.7 275.6 L178.2 274.7 L178.7 273.7 L179.1 272.8 L179.6 271.9 L180.0 271.0 L180.5 270.1 L180.9 269.2 L181.4 268.5 L181.7 267.7 L182.1 267.0 L182.5 266.2 L183.0 265.3 L183.5 264.3 L184.1 263.1 L184.7 261.7 L185.4 260.3 L186.2 258.7 L187.0 257.0 L187.9 255.2 L188.7 253.2 L189.5 251.2 L190.3 249.0 L191.1 246.5 L191.9 243.6 L192.7 240.5 L193.6 237.3 L194.3 234.2 L195.0 231.4 L195.6 229.0 L196.1 227.3" fill="none" stroke="#d21b6e" stroke-width="1.3"/>
<path d="M56.8 340.3 L57.3 340.3 L57.9 340.2 L58.7 340.1 L59.5 340.1 L60.4 340.0 L61.3 339.9 L62.2 339.8 L63.0 339.7 L63.8 339.6 L64.6 339.4 L65.4 339.3 L66.1 339.1 L66.9 339.0 L67.7 338.8 L68.5 338.6 L69.3 338.5 L70.0 338.3 L70.8 338.1 L71.6 337.9 L72.4 337.7 L73.1 337.5 L73.9 337.3 L74.7 337.0 L75.5 336.8 L76.2 336.6 L77.0 336.4 L77.7 336.2 L78.4 336.0 L79.1 335.7 L79.9 335.5 L80.8 335.2 L81.7 335.0 L82.7 334.7 L83.8 334.4 L85.0 334.1 L86.2 333.7 L87.4 333.4 L88.7 333.0 L89.9 332.7 L91.0 332.3 L92.1 332.0 L93.1 331.7 L94.0 331.4 L94.9 331.1 L95.9 330.8 L97.0 330.3 L98.4 329.8 L100.0 329.0 L102.0 328.1 L104.4 327.0 L106.9 325.8 L109.7 324.4 L112.4 323.1 L115.0 321.8 L117.4 320.6 L119.5 319.5 L121.2 318.6 L122.8 317.8 L124.1 317.1 L125.4 316.4 L126.5 315.8 L127.6 315.2 L128.8 314.5 L130.0 313.8 L131.3 313.1 L132.5 312.3 L133.8 311.5 L135.0 310.8 L136.3 310.0 L137.5 309.2 L138.7 308.5 L140.0 307.8 L141.2 307.0 L142.6 306.3 L143.9 305.6 L145.2 304.9 L146.5 304.2 L147.7 303.6 L148.9 302.9 L150.0 302.2 L151.0 301.6 L152.0 301.0 L152.8 300.4 L153.7 299.8 L154.5 299.2 L155.3 298.6 L156.2 298.0 L157.0 297.3 L158.0 296.7 L158.9 296.0 L159.9 295.3 L160.8 294.5 L161.8 293.8 L162.7 293.1 L163.6 292.3 L164.4 291.5 L165.1 290.7 L165.8 289.9 L166.5 289.0 L167.1 288.2 L167.7 287.3 L168.2 286.4 L168.9 285.4 L169.5 284.4 L170.2 283.4 L170.8 282.3 L171.5 281.2 L172.2 280.1 L172.9 278.9 L173.6 277.8 L174.2 276.7 L174.8 275.6 L175.4 274.6 L175.9 273.6 L176.4 272.7 L176.9 271.7 L177.3 270.8 L177.8 269.9 L178.2 269.0 L178.7 268.1 L179.1 267.2 L179.6 266.5 L179.9 265.7 L180.3 265.0 L180.7 264.2 L181.2 263.3 L181.7 262.3 L182.3 261.1 L182.9 259.7 L183.6 258.3 L184.4 256.7 L185.2 255.0 L186.1 253.2 L186.9 251.2 L187.7 249.2 L188.5 247.0 L189.3 244.5 L190.1 241.6 L190.9 238.5 L191.8 235.3 L192.5 232.2 L193.2 229.4 L193.8 227.0 L194.3 225.3" fill="none" stroke="#2b57c8" stroke-width="1.3"/>
<circle cx="58.8" cy="342.6" r="1.7" fill="#f3c6dc" stroke="#d21b6e" stroke-width="0.8"/>
<circle cx="64.8" cy="342.0" r="1.7" fill="#f3c6dc" stroke="#d21b6e" stroke-width="0.8"/>
<circle cx="70.9" cy="340.8" r="1.7" fill="#f3c6dc" stroke="#d21b6e" stroke-width="0.8"/>
<circle cx="76.9" cy="339.3" r="1.7" fill="#f3c6dc" stroke="#d21b6e" stroke-width="0.8"/>
<circle cx="83.0" cy="337.5" r="1.7" fill="#f3c6dc" stroke="#d21b6e" stroke-width="0.8"/>
<circle cx="89.0" cy="335.8" r="1.7" fill="#f3c6dc" stroke="#d21b6e" stroke-width="0.8"/>
<circle cx="95.0" cy="334.0" r="1.7" fill="#f3c6dc" stroke="#d21b6e" stroke-width="0.8"/>
<circle cx="101.1" cy="331.8" r="1.7" fill="#f3c6dc" stroke="#d21b6e" stroke-width="0.8"/>
<circle cx="107.1" cy="328.9" r="1.7" fill="#f3c6dc" stroke="#d21b6e" stroke-width="0.8"/>
<circle cx="113.2" cy="326.0" r="1.7" fill="#f3c6dc" stroke="#d21b6e" stroke-width="0.8"/>
<circle cx="119.2" cy="323.0" r="1.7" fill="#f3c6dc" stroke="#d21b6e" stroke-width="0.8"/>
<circle cx="125.2" cy="319.9" r="1.7" fill="#f3c6dc" stroke="#d21b6e" stroke-width="0.8"/>
<circle cx="131.3" cy="316.5" r="1.7" fill="#f3c6dc" stroke="#d21b6e" stroke-width="0.8"/>
<circle cx="137.3" cy="312.9" r="1.7" fill="#f3c6dc" stroke="#d21b6e" stroke-width="0.8"/>
<circle cx="143.3" cy="309.3" r="1.7" fill="#f3c6dc" stroke="#d21b6e" stroke-width="0.8"/>
<circle cx="149.4" cy="306.0" r="1.7" fill="#f3c6dc" stroke="#d21b6e" stroke-width="0.8"/>
<circle cx="155.4" cy="302.3" r="1.7" fill="#f3c6dc" stroke="#d21b6e" stroke-width="0.8"/>
<circle cx="161.5" cy="297.9" r="1.7" fill="#f3c6dc" stroke="#d21b6e" stroke-width="0.8"/>
<circle cx="167.5" cy="292.5" r="1.7" fill="#f3c6dc" stroke="#d21b6e" stroke-width="0.8"/>
<circle cx="173.5" cy="283.5" r="1.7" fill="#f3c6dc" stroke="#d21b6e" stroke-width="0.8"/>
<circle cx="179.6" cy="272.6" r="1.7" fill="#f3c6dc" stroke="#d21b6e" stroke-width="0.8"/>
<circle cx="185.6" cy="260.6" r="1.7" fill="#f3c6dc" stroke="#d21b6e" stroke-width="0.8"/>
<circle cx="191.7" cy="245.4" r="1.7" fill="#f3c6dc" stroke="#d21b6e" stroke-width="0.8"/>
<circle cx="196.3" cy="227.6" r="1.7" fill="#f3c6dc" stroke="#d21b6e" stroke-width="0.8"/>
<circle cx="56.8" cy="340.3" r="1.6" fill="#2b57c8" stroke="#9db4ea" stroke-width="0.4"/>
<circle cx="62.8" cy="339.7" r="1.6" fill="#2b57c8" stroke="#9db4ea" stroke-width="0.4"/>
<circle cx="68.9" cy="338.5" r="1.6" fill="#2b57c8" stroke="#9db4ea" stroke-width="0.4"/>
<circle cx="74.9" cy="337.0" r="1.6" fill="#2b57c8" stroke="#9db4ea" stroke-width="0.4"/>
<circle cx="81.0" cy="335.2" r="1.6" fill="#2b57c8" stroke="#9db4ea" stroke-width="0.4"/>
<circle cx="87.0" cy="333.5" r="1.6" fill="#2b57c8" stroke="#9db4ea" stroke-width="0.4"/>
<circle cx="93.0" cy="331.7" r="1.6" fill="#2b57c8" stroke="#9db4ea" stroke-width="0.4"/>
<circle cx="99.1" cy="329.5" r="1.6" fill="#2b57c8" stroke="#9db4ea" stroke-width="0.4"/>
<circle cx="105.1" cy="326.6" r="1.6" fill="#2b57c8" stroke="#9db4ea" stroke-width="0.4"/>
<circle cx="111.2" cy="323.7" r="1.6" fill="#2b57c8" stroke="#9db4ea" stroke-width="0.4"/>
<circle cx="117.2" cy="320.7" r="1.6" fill="#2b57c8" stroke="#9db4ea" stroke-width="0.4"/>
<circle cx="123.2" cy="317.6" r="1.6" fill="#2b57c8" stroke="#9db4ea" stroke-width="0.4"/>
<circle cx="129.3" cy="314.2" r="1.6" fill="#2b57c8" stroke="#9db4ea" stroke-width="0.4"/>
<circle cx="135.3" cy="310.6" r="1.6" fill="#2b57c8" stroke="#9db4ea" stroke-width="0.4"/>
<circle cx="141.3" cy="307.0" r="1.6" fill="#2b57c8" stroke="#9db4ea" stroke-width="0.4"/>
<circle cx="147.4" cy="303.7" r="1.6" fill="#2b57c8" stroke="#9db4ea" stroke-width="0.4"/>
<circle cx="153.4" cy="300.0" r="1.6" fill="#2b57c8" stroke="#9db4ea" stroke-width="0.4"/>
<circle cx="159.5" cy="295.6" r="1.6" fill="#2b57c8" stroke="#9db4ea" stroke-width="0.4"/>
<circle cx="165.5" cy="290.2" r="1.6" fill="#2b57c8" stroke="#9db4ea" stroke-width="0.4"/>
<circle cx="171.5" cy="281.2" r="1.6" fill="#2b57c8" stroke="#9db4ea" stroke-width="0.4"/>
<circle cx="177.6" cy="270.3" r="1.6" fill="#2b57c8" stroke="#9db4ea" stroke-width="0.4"/>
<circle cx="183.6" cy="258.3" r="1.6" fill="#2b57c8" stroke="#9db4ea" stroke-width="0.4"/>
<circle cx="189.7" cy="243.1" r="1.6" fill="#2b57c8" stroke="#9db4ea" stroke-width="0.4"/>
<circle cx="194.3" cy="225.3" r="1.6" fill="#2b57c8" stroke="#9db4ea" stroke-width="0.4"/>
<text x="60.3" y="322.2" font-family='"Liberation Sans", Arial, sans-serif' font-size="7.4" font-weight="bold" text-anchor="start" fill="#222" textLength="36.5" lengthAdjust="spacingAndGlyphs" stroke="#222" stroke-width="0.2">GF= ~114</text>
<text x="190.3" y="258.7" font-family='"Liberation Sans", Arial, sans-serif' font-size="7.4" font-weight="bold" text-anchor="start" fill="#222" textLength="35.2" lengthAdjust="spacingAndGlyphs" stroke="#222" stroke-width="0.2">GF= ~720</text>
<rect x="53.8" y="331.8" width="12.2" height="9.1" fill="none" stroke="#8ab87a" stroke-width="0.6"/>
<line x1="57" y1="340.2" x2="137" y2="336.1" stroke="#3a8a2a" stroke-width="0.9" stroke-dasharray="1.1 0.9"/>
<path d="M141.5 335.9 L136.5 334.4 L136.7 337.8 Z" fill="#2f7a22"/>
<line x1="134.4" y1="302.4" x2="154.5" y2="289.1" stroke="#3f6fd8" stroke-width="1.0"/>
<path d="M158.7 286.3 L155.5 290.5 L153.6 287.6 Z" fill="#3f6fd8"/>
<line x1="164.4" y1="304.4" x2="149.5" y2="313.2" stroke="#d0206a" stroke-width="1.0"/>
<path d="M145.2 315.8 L148.6 311.8 L150.4 314.7 Z" fill="#d0206a"/>
<rect x="305.8" y="205.9" width="181.89999999999998" height="137.99999999999997" fill="#fff"/>
<rect x="312.4" y="207.6" width="29.200000000000045" height="136.29999999999998" fill="#f3f3fc"/>
<rect x="341.6" y="207.6" width="36.599999999999966" height="136.29999999999998" fill="#f9efe8"/>
<rect x="378.2" y="207.6" width="40.60000000000002" height="136.29999999999998" fill="#f6fbfe"/>
<rect x="418.8" y="207.6" width="60.599999999999966" height="136.29999999999998" fill="#e5ecf9"/>
<rect x="479.4" y="207.6" width="7.800000000000011" height="136.29999999999998" fill="#f1f5fc"/>
<polyline points="306.50,341.98 306.65,341.98 306.80,341.98 306.95,341.98 307.10,341.98 307.25,341.98 307.40,341.98 307.55,341.98 307.70,341.98 307.85,341.98 308.00,341.98 308.15,341.98 308.30,341.98 308.45,341.98 308.60,341.98 308.75,341.98 308.90,341.98 309.05,341.98 309.20,341.98 309.35,341.98 309.50,341.98 309.65,341.98 309.80,341.98 309.95,341.98 310.10,341.98 310.25,341.98 310.40,341.98 310.55,341.98 310.70,341.98 310.85,341.98 311.00,341.98 311.15,341.98 311.30,341.98 311.45,341.98 311.60,341.98 311.75,341.98 311.90,341.98 312.05,341.98 312.20,341.64 312.35,341.18 312.50,340.66 312.65,340.07 312.80,339.44 312.95,338.75 313.10,338.02 313.25,337.26 313.40,336.46 313.55,335.64 313.70,334.79 313.85,333.93 314.00,333.05 314.15,332.18 314.30,331.30 314.45,330.42 314.60,330.71 314.75,331.59 314.90,332.47 315.05,333.35 315.20,334.22 315.35,335.07 315.50,335.91 315.65,336.73 315.80,337.52 315.95,338.27 316.10,338.99 316.25,339.66 316.40,340.28 316.55,340.84 316.70,341.34 316.85,341.78 317.00,341.98 317.15,341.98 317.30,341.98 317.45,341.98 317.60,341.98 317.75,341.98 317.90,341.78 318.05,341.34 318.20,340.84 318.35,340.28 318.50,339.66 318.65,338.99 318.80,338.27 318.95,337.52 319.10,336.73 319.25,335.91 319.40,335.07 319.55,334.22 319.70,333.35 319.85,332.47 320.00,331.59 320.15,330.71 320.30,330.42 320.45,331.30 320.60,332.18 320.75,333.05 320.90,333.93 321.05,334.79 321.20,335.64 321.35,336.46 321.50,337.26 321.65,338.02 321.80,338.75 321.95,339.44 322.10,340.07 322.25,340.66 322.40,341.18 322.55,341.64 322.70,341.98 322.85,341.98 323.00,341.98 323.15,341.98 323.30,341.98 323.45,341.98 323.60,341.90 323.75,341.50 323.90,341.02 324.05,340.47 324.20,339.87 324.35,339.21 324.50,338.51 324.65,337.77 324.80,336.99 324.95,336.19 325.10,335.36 325.25,334.50 325.40,333.64 325.55,332.76 325.70,331.88 325.85,331.00 326.00,330.13 326.15,331.00 326.30,331.88 326.45,332.76 326.60,333.64 326.75,334.50 326.90,335.36 327.05,336.19 327.20,336.99 327.35,337.77 327.50,338.51 327.65,339.21 327.80,339.87 327.95,340.47 328.10,341.02 328.25,341.50 328.40,341.90 328.55,341.98 328.70,341.98 328.85,341.98 329.00,341.98 329.15,341.98 329.30,341.98 329.45,341.64 329.60,341.18 329.75,340.66 329.90,340.07 330.05,339.44 330.20,338.75 330.35,338.02 330.50,337.26 330.65,336.46 330.80,335.64 330.95,334.79 331.10,333.93 331.25,333.05 331.40,332.18 331.55,331.30 331.70,330.42 331.85,330.71 332.00,331.59 332.15,332.47 332.30,333.35 332.45,334.22 332.60,335.07 332.75,335.91 332.90,336.73 333.05,337.52 333.20,338.27 333.35,338.99 333.50,339.66 333.65,340.28 333.80,340.84 333.95,341.34 334.10,341.78 334.25,341.98 334.40,341.98 334.55,341.98 334.70,341.98 334.85,341.98 335.00,341.98 335.15,341.78 335.30,341.34 335.45,340.84 335.60,340.28 335.75,339.66 335.90,338.99 336.05,338.27 336.20,337.52 336.35,336.73 336.50,335.91 336.65,335.07 336.80,334.22 336.95,333.35 337.10,332.47 337.25,331.59 337.40,330.71 337.55,330.42 337.70,331.30 337.85,332.18 338.00,333.05 338.15,333.93 338.30,334.79 338.45,335.64 338.60,336.46 338.75,337.26 338.90,338.02 339.05,338.75 339.20,339.44 339.35,340.07 339.50,340.66 339.65,341.18 339.80,341.64 339.95,341.98 340.10,341.98 340.25,341.98 340.40,341.98 340.55,341.98 340.70,341.98 340.85,341.98 341.00,341.98 341.15,341.98 341.30,341.68 341.45,340.97 341.60,340.11 341.75,339.10 341.90,337.97 342.05,336.72 342.20,335.36 342.35,333.90 342.50,332.34 342.65,330.71 342.80,328.99 342.95,327.21 343.10,325.36 343.25,323.46 343.40,321.52 343.55,319.53 343.70,317.52 343.85,315.48 344.00,313.43 344.15,311.36 344.30,309.30 344.45,307.24 344.60,305.19 344.75,307.24 344.90,309.30 345.05,311.36 345.20,313.43 345.35,315.48 345.50,317.52 345.65,319.53 345.80,321.52 345.95,323.46 346.10,325.36 346.25,327.21 346.40,328.99 346.55,330.71 346.70,332.34 346.85,333.90 347.00,335.36 347.15,336.72 347.30,337.97 347.45,339.10 347.60,340.11 347.75,340.97 347.90,341.68 348.05,341.98 348.20,341.98 348.35,341.98 348.50,341.98 348.65,341.68 348.80,340.97 348.95,340.11 349.10,339.10 349.25,337.97 349.40,336.72 349.55,335.36 349.70,333.90 349.85,332.34 350.00,330.71 350.15,328.99 350.30,327.21 350.45,325.36 350.60,323.46 350.75,321.52 350.90,319.53 351.05,317.52 351.20,315.48 351.35,313.43 351.50,311.36 351.65,309.30 351.80,307.24 351.95,305.19 352.10,307.24 352.25,309.30 352.40,311.36 352.55,313.43 352.70,315.48 352.85,317.52 353.00,319.53 353.15,321.52 353.30,323.46 353.45,325.36 353.60,327.21 353.75,328.99 353.90,330.71 354.05,332.34 354.20,333.90 354.35,335.36 354.50,336.72 354.65,337.97 354.80,339.10 354.95,340.11 355.10,340.97 355.25,341.68 355.40,341.98 355.55,341.98 355.70,341.98 355.85,341.98 356.00,341.68 356.15,340.97 356.30,340.11 356.45,339.10 356.60,337.97 356.75,336.72 356.90,335.36 357.05,333.90 357.20,332.34 357.35,330.71 357.50,328.99 357.65,327.21 357.80,325.36 357.95,323.46 358.10,321.52 358.25,319.53 358.40,317.52 358.55,315.48 358.70,313.43 358.85,311.36 359.00,309.30 359.15,307.24 359.30,305.19 359.45,307.24 359.60,309.30 359.75,311.36 359.90,313.43 360.05,315.48 360.20,317.52 360.35,319.53 360.50,321.52 360.65,323.46 360.80,325.36 360.95,327.21 361.10,328.99 361.25,330.71 361.40,332.34 361.55,333.90 361.70,335.36 361.85,336.72 362.00,337.97 362.15,339.10 362.30,340.11 362.45,340.97 362.60,341.68 362.75,341.98 362.90,341.98 363.05,341.98 363.20,341.98 363.35,341.68 363.50,340.97 363.65,340.11 363.80,339.10 363.95,337.97 364.10,336.72 364.25,335.36 364.40,333.90 364.55,332.34 364.70,330.71 364.85,328.99 365.00,327.21 365.15,325.36 365.30,323.46 365.45,321.52 365.60,319.53 365.75,317.52 365.90,315.48 366.05,313.43 366.20,311.36 366.35,309.30 366.50,307.24 366.65,305.19 366.80,307.24 366.95,309.30 367.10,311.36 367.25,313.43 367.40,315.48 367.55,317.52 367.70,319.53 367.85,321.52 368.00,323.46 368.15,325.36 368.30,327.21 368.45,328.99 368.60,330.71 368.75,332.34 368.90,333.90 369.05,335.36 369.20,336.72 369.35,337.97 369.50,339.10 369.65,340.11 369.80,340.97 369.95,341.68 370.10,341.98 370.25,341.98 370.40,341.98 370.55,341.98 370.70,341.68 370.85,340.97 371.00,340.11 371.15,339.10 371.30,337.97 371.45,336.72 371.60,335.36 371.75,333.90 371.90,332.34 372.05,330.71 372.20,328.99 372.35,327.21 372.50,325.36 372.65,323.46 372.80,321.52 372.95,319.53 373.10,317.52 373.25,315.48 373.40,313.43 373.55,311.36 373.70,309.30 373.85,307.24 374.00,305.19 374.15,307.24 374.30,309.30 374.45,311.36 374.60,313.43 374.75,315.48 374.90,317.52 375.05,319.53 375.20,321.52 375.35,323.46 375.50,325.36 375.65,327.21 375.80,328.99 375.95,330.71 376.10,332.34 376.25,333.90 376.40,335.36 376.55,336.72 376.70,337.97 376.85,339.10 377.00,340.11 377.15,340.97 377.30,341.68 377.45,341.98 377.60,341.98 377.75,341.98 377.90,341.98 378.05,341.98 378.20,341.98 378.35,341.98 378.50,341.98 378.65,341.98 378.80,341.98 378.95,341.42 379.10,340.43 379.25,339.22 379.40,337.80 379.55,336.19 379.70,334.41 379.85,332.46 380.00,330.36 380.15,328.11 380.30,325.74 380.45,323.25 380.60,320.64 380.75,317.94 380.90,315.15 381.05,312.28 381.20,309.34 381.35,306.33 381.50,303.28 381.65,300.19 381.80,297.06 381.95,293.91 382.10,290.75 382.25,287.59 382.40,284.43 382.55,281.29 382.70,282.34 382.85,285.48 383.00,288.64 383.15,291.81 383.30,294.96 383.45,298.11 383.60,301.22 383.75,304.30 383.90,307.34 384.05,310.32 384.20,313.24 384.35,316.09 384.50,318.85 384.65,321.52 384.80,324.09 384.95,326.54 385.10,328.87 385.25,331.07 385.40,333.12 385.55,335.02 385.70,336.75 385.85,338.30 386.00,339.65 386.15,340.79 386.30,341.69 386.45,341.98 386.60,341.98 386.75,341.98 386.90,341.69 387.05,340.79 387.20,339.65 387.35,338.30 387.50,336.75 387.65,335.02 387.80,333.12 387.95,331.07 388.10,328.87 388.25,326.54 388.40,324.09 388.55,321.52 388.70,318.85 388.85,316.09 389.00,313.24 389.15,310.32 389.30,307.34 389.45,304.30 389.60,301.22 389.75,298.11 389.90,294.96 390.05,291.81 390.20,288.64 390.35,285.48 390.50,282.34 390.65,281.29 390.80,284.43 390.95,287.59 391.10,290.75 391.25,293.91 391.40,297.06 391.55,300.19 391.70,303.28 391.85,306.33 392.00,309.34 392.15,312.28 392.30,315.15 392.45,317.94 392.60,320.64 392.75,323.25 392.90,325.74 393.05,328.11 393.20,330.36 393.35,332.46 393.50,334.41 393.65,336.19 393.80,337.80 393.95,339.22 394.10,340.43 394.25,341.42 394.40,341.98 394.55,341.98 394.70,341.98 394.85,341.93 395.00,341.12 395.15,340.05 395.30,338.77 395.45,337.29 395.60,335.62 395.75,333.77 395.90,331.77 396.05,329.62 396.20,327.34 396.35,324.92 396.50,322.39 396.65,319.75 396.80,317.02 396.95,314.20 397.10,311.31 397.25,308.34 397.40,305.32 397.55,302.25 397.70,299.15 397.85,296.01 398.00,292.86 398.15,289.70 398.30,286.54 398.45,283.38 398.60,280.25 398.75,283.38 398.90,286.54 399.05,289.70 399.20,292.86 399.35,296.01 399.50,299.15 399.65,302.25 399.80,305.32 399.95,308.34 400.10,311.31 400.25,314.20 400.40,317.02 400.55,319.75 400.70,322.39 400.85,324.92 401.00,327.34 401.15,329.62 401.30,331.77 401.45,333.77 401.60,335.62 401.75,337.29 401.90,338.77 402.05,340.05 402.20,341.12 402.35,341.93 402.50,341.98 402.65,341.98 402.80,341.98 402.95,341.42 403.10,340.43 403.25,339.22 403.40,337.80 403.55,336.19 403.70,334.41 403.85,332.46 404.00,330.36 404.15,328.11 404.30,325.74 404.45,323.25 404.60,320.64 404.75,317.94 404.90,315.15 405.05,312.28 405.20,309.34 405.35,306.33 405.50,303.28 405.65,300.19 405.80,297.06 405.95,293.91 406.10,290.75 406.25,287.59 406.40,284.43 406.55,281.29 406.70,282.34 406.85,285.48 407.00,288.64 407.15,291.81 407.30,294.96 407.45,298.11 407.60,301.22 407.75,304.30 407.90,307.34 408.05,310.32 408.20,313.24 408.35,316.09 408.50,318.85 408.65,321.52 408.80,324.09 408.95,326.54 409.10,328.87 409.25,331.07 409.40,333.12 409.55,335.02 409.70,336.75 409.85,338.30 410.00,339.65 410.15,340.79 410.30,341.69 410.45,341.98 410.60,341.98 410.75,341.98 410.90,341.69 411.05,340.79 411.20,339.65 411.35,338.30 411.50,336.75 411.65,335.02 411.80,333.12 411.95,331.07 412.10,328.87 412.25,326.54 412.40,324.09 412.55,321.52 412.70,318.85 412.85,316.09 413.00,313.24 413.15,310.32 413.30,307.34 413.45,304.30 413.60,301.22 413.75,298.11 413.90,294.96 414.05,291.81 414.20,288.64 414.35,285.48 414.50,282.34 414.65,281.29 414.80,284.43 414.95,287.59 415.10,290.75 415.25,293.91 415.40,297.06 415.55,300.19 415.70,303.28 415.85,306.33 416.00,309.34 416.15,312.28 416.30,315.15 416.45,317.94 416.60,320.64 416.75,323.25 416.90,325.74 417.05,328.11 417.20,330.36 417.35,332.46 417.50,334.41 417.65,336.19 417.80,337.80 417.95,339.22 418.10,340.43 418.25,341.42 418.40,341.98 418.55,341.98 418.70,341.98 418.85,341.98 419.00,341.90 419.15,341.04 419.30,339.93 419.45,338.57 419.60,337.01 419.75,335.24 419.90,333.28 420.05,331.14 420.20,328.83 420.35,326.36 420.50,323.74 420.65,320.97 420.80,318.06 420.95,315.02 421.10,311.86 421.25,308.57 421.40,305.18 421.55,301.68 421.70,298.08 421.85,294.39 422.00,290.62 422.15,286.76 422.30,282.83 422.45,278.84 422.60,274.78 422.75,270.67 422.90,266.51 423.05,262.31 423.20,258.07 423.35,253.81 423.50,249.52 423.65,245.21 423.80,240.89 423.95,236.56 424.10,232.24 424.25,227.92 424.40,223.61 424.55,219.32 424.70,220.75 424.85,225.05 425.00,229.36 425.15,233.68 425.30,238.01 425.45,242.33 425.60,246.65 425.75,250.95 425.90,255.23 426.05,259.49 426.20,263.72 426.35,267.90 426.50,272.05 426.65,276.14 426.80,280.18 426.95,284.15 427.10,288.06 427.25,291.89 427.40,295.63 427.55,299.29 427.70,302.86 427.85,306.32 428.00,309.68 428.15,312.92 428.30,316.05 428.45,319.04 428.60,321.91 428.75,324.63 428.90,327.20 429.05,329.62 429.20,331.87 429.35,333.95 429.50,335.85 429.65,337.55 429.80,339.05 429.95,340.33 430.10,341.36 430.25,341.98 430.40,341.98 430.55,341.98 430.70,341.90 430.85,341.04 431.00,339.93 431.15,338.57 431.30,337.01 431.45,335.24 431.60,333.28 431.75,331.14 431.90,328.83 432.05,326.36 432.20,323.74 432.35,320.97 432.50,318.06 432.65,315.02 432.80,311.86 432.95,308.57 433.10,305.18 433.25,301.68 433.40,298.08 433.55,294.39 433.70,290.62 433.85,286.76 434.00,282.83 434.15,278.84 434.30,274.78 434.45,270.67 434.60,266.51 434.75,262.31 434.90,258.07 435.05,253.81 435.20,249.52 435.35,245.21 435.50,240.89 435.65,236.56 435.80,232.24 435.95,227.92 436.10,223.61 436.25,219.32 436.40,220.75 436.55,225.05 436.70,229.36 436.85,233.68 437.00,238.01 437.15,242.33 437.30,246.65 437.45,250.95 437.60,255.23 437.75,259.49 437.90,263.72 438.05,267.90 438.20,272.05 438.35,276.14 438.50,280.18 438.65,284.15 438.80,288.06 438.95,291.89 439.10,295.63 439.25,299.29 439.40,302.86 439.55,306.32 439.70,309.68 439.85,312.92 440.00,316.05 440.15,319.04 440.30,321.91 440.45,324.63 440.60,327.20 440.75,329.62 440.90,331.87 441.05,333.95 441.20,335.85 441.35,337.55 441.50,339.05 441.65,340.33 441.80,341.36 441.95,341.98 442.10,341.98 442.25,341.98 442.40,341.90 442.55,341.04 442.70,339.93 442.85,338.57 443.00,337.01 443.15,335.24 443.30,333.28 443.45,331.14 443.60,328.83 443.75,326.36 443.90,323.74 444.05,320.97 444.20,318.06 444.35,315.02 444.50,311.86 444.65,308.57 444.80,305.18 444.95,301.68 445.10,298.08 445.25,294.39 445.40,290.62 445.55,286.76 445.70,282.83 445.85,278.84 446.00,274.78 446.15,270.67 446.30,266.51 446.45,262.31 446.60,258.07 446.75,253.81 446.90,249.52 447.05,245.21 447.20,240.89 447.35,236.56 447.50,232.24 447.65,227.92 447.80,223.61 447.95,219.32 448.10,220.75 448.25,225.05 448.40,229.36 448.55,233.68 448.70,238.01 448.85,242.33 449.00,246.65 449.15,250.95 449.30,255.23 449.45,259.49 449.60,263.72 449.75,267.90 449.90,272.05 450.05,276.14 450.20,280.18 450.35,284.15 450.50,288.06 450.65,291.89 450.80,295.63 450.95,299.29 451.10,302.86 451.25,306.32 451.40,309.68 451.55,312.92 451.70,316.05 451.85,319.04 452.00,321.91 452.15,324.63 452.30,327.20 452.45,329.62 452.60,331.87 452.75,333.95 452.90,335.85 453.05,337.55 453.20,339.05 453.35,340.33 453.50,341.36 453.65,341.98 453.80,341.98 453.95,341.98 454.10,341.90 454.25,341.04 454.40,339.93 454.55,338.57 454.70,337.01 454.85,335.24 455.00,333.28 455.15,331.14 455.30,328.83 455.45,326.36 455.60,323.74 455.75,320.97 455.90,318.06 456.05,315.02 456.20,311.86 456.35,308.57 456.50,305.18 456.65,301.68 456.80,298.08 456.95,294.39 457.10,290.62 457.25,286.76 457.40,282.83 457.55,278.84 457.70,274.78 457.85,270.67 458.00,266.51 458.15,262.31 458.30,258.07 458.45,253.81 458.60,249.52 458.75,245.21 458.90,240.89 459.05,236.56 459.20,232.24 459.35,227.92 459.50,223.61 459.65,219.32 459.80,220.75 459.95,225.05 460.10,229.36 460.25,233.68 460.40,238.01 460.55,242.33 460.70,246.65 460.85,250.95 461.00,255.23 461.15,259.49 461.30,263.72 461.45,267.90 461.60,272.05 461.75,276.14 461.90,280.18 462.05,284.15 462.20,288.06 462.35,291.89 462.50,295.63 462.65,299.29 462.80,302.86 462.95,306.32 463.10,309.68 463.25,312.92 463.40,316.05 463.55,319.04 463.70,321.91 463.85,324.63 464.00,327.20 464.15,329.62 464.30,331.87 464.45,333.95 464.60,335.85 464.75,337.55 464.90,339.05 465.05,340.33 465.20,341.36 465.35,341.98 465.50,341.98 465.65,341.98 465.80,341.90 465.95,341.04 466.10,339.93 466.25,338.57 466.40,337.01 466.55,335.24 466.70,333.28 466.85,331.14 467.00,328.83 467.15,326.36 467.30,323.74 467.45,320.97 467.60,318.06 467.75,315.02 467.90,311.86 468.05,308.57 468.20,305.18 468.35,301.68 468.50,298.08 468.65,294.39 468.80,290.62 468.95,286.76 469.10,282.83 469.25,278.84 469.40,274.78 469.55,270.67 469.70,266.51 469.85,262.31 470.00,258.07 470.15,253.81 470.30,249.52 470.45,245.21 470.60,240.89 470.75,236.56 470.90,232.24 471.05,227.92 471.20,223.61 471.35,219.32 471.50,220.75 471.65,225.05 471.80,229.36 471.95,233.68 472.10,238.01 472.25,242.33 472.40,246.65 472.55,250.95 472.70,255.23 472.85,259.49 473.00,263.72 473.15,267.90 473.30,272.05 473.45,276.14 473.60,280.18 473.75,284.15 473.90,288.06 474.05,291.89 474.20,295.63 474.35,299.29 474.50,302.86 474.65,306.32 474.80,309.68 474.95,312.92 475.10,316.05 475.25,319.04 475.40,321.91 475.55,324.63 475.70,327.20 475.85,329.62 476.00,331.87 476.15,333.95 476.30,335.85 476.45,337.55 476.60,339.05 476.75,340.33 476.90,341.36 477.05,341.98 477.20,341.98 477.35,341.98 477.50,341.98 477.65,341.98 477.80,341.98 477.95,341.98 478.10,341.98 478.25,341.98 478.40,341.98 478.55,341.98 478.70,341.98 478.85,341.98 479.00,341.98 479.15,341.98 479.30,341.98 479.45,341.98 479.60,341.98 479.75,341.98 479.90,341.98 480.05,341.98 480.20,341.98 480.35,341.98 480.50,341.98 480.65,341.98 480.80,341.98 480.95,341.98 481.10,341.98 481.25,341.98 481.40,341.98 481.55,341.98 481.70,341.98 481.85,341.98 482.00,341.98 482.15,341.98 482.30,341.98 482.45,341.98 482.60,341.98 482.75,341.98 482.90,341.98 483.05,341.98 483.20,341.98 483.35,341.98 483.50,341.98 483.65,341.98 483.80,341.98 483.95,341.98 484.10,341.98 484.25,341.98 484.40,341.98 484.55,341.98 484.70,341.98 484.85,341.98 485.00,341.98 485.15,341.98 485.30,341.98 485.45,341.98 485.60,341.98 485.75,341.98 485.90,341.98 486.05,341.98 486.20,341.98 486.35,341.98 486.50,341.98 486.65,341.98 486.80,341.98" fill="none" stroke="#a398ea" stroke-width="1.3" stroke-linejoin="round"/>
<polyline points="306.50,341.98 306.65,341.98 306.80,341.98 306.95,341.98 307.10,341.98 307.25,341.98 307.40,341.98 307.55,341.98 307.70,341.98 307.85,341.98 308.00,341.98 308.15,341.98 308.30,341.98 308.45,341.98 308.60,341.98 308.75,341.98 308.90,341.98 309.05,341.98 309.20,341.98 309.35,341.98 309.50,341.98 309.65,341.98 309.80,341.98 309.95,341.98 310.10,341.98 310.25,341.98 310.40,341.98 310.55,341.98 310.70,341.98 310.85,341.98 311.00,341.98 311.15,341.98 311.30,341.98 311.45,341.98 311.60,341.98 311.75,341.98 311.90,341.98 312.05,341.98 312.20,341.98 312.35,341.83 312.50,341.48 312.65,341.08 312.80,340.61 312.95,340.10 313.10,339.53 313.25,338.92 313.40,338.27 313.55,337.57 313.70,336.85 313.85,336.09 314.00,335.32 314.15,334.52 314.30,333.71 314.45,332.90 314.60,333.17 314.75,333.98 314.90,334.79 315.05,335.58 315.20,336.35 315.35,337.09 315.50,337.81 315.65,338.49 315.80,339.13 315.95,339.73 316.10,340.28 316.25,340.77 316.40,341.22 316.55,341.60 316.70,341.93 316.85,341.98 317.00,341.98 317.15,341.98 317.30,341.98 317.45,341.98 317.60,341.98 317.75,341.98 317.90,341.98 318.05,341.93 318.20,341.60 318.35,341.22 318.50,340.77 318.65,340.28 318.80,339.73 318.95,339.13 319.10,338.49 319.25,337.81 319.40,337.09 319.55,336.35 319.70,335.58 319.85,334.79 320.00,333.98 320.15,333.17 320.30,332.90 320.45,333.71 320.60,334.52 320.75,335.32 320.90,336.09 321.05,336.85 321.20,337.57 321.35,338.27 321.50,338.92 321.65,339.53 321.80,340.10 321.95,340.61 322.10,341.08 322.25,341.48 322.40,341.83 322.55,341.98 322.70,341.98 322.85,341.98 323.00,341.98 323.15,341.98 323.30,341.98 323.45,341.98 323.60,341.98 323.75,341.98 323.90,341.72 324.05,341.35 324.20,340.93 324.35,340.45 324.50,339.91 324.65,339.33 324.80,338.71 324.95,338.04 325.10,337.33 325.25,336.60 325.40,335.84 325.55,335.05 325.70,334.25 325.85,333.44 326.00,332.62 326.15,333.44 326.30,334.25 326.45,335.05 326.60,335.84 326.75,336.60 326.90,337.33 327.05,338.04 327.20,338.71 327.35,339.33 327.50,339.91 327.65,340.45 327.80,340.93 327.95,341.35 328.10,341.72 328.25,341.98 328.40,341.98 328.55,341.98 328.70,341.98 328.85,341.98 329.00,341.98 329.15,341.98 329.30,341.98 329.45,341.98 329.60,341.83 329.75,341.48 329.90,341.08 330.05,340.61 330.20,340.10 330.35,339.53 330.50,338.92 330.65,338.27 330.80,337.57 330.95,336.85 331.10,336.09 331.25,335.32 331.40,334.52 331.55,333.71 331.70,332.90 331.85,333.17 332.00,333.98 332.15,334.79 332.30,335.58 332.45,336.35 332.60,337.09 332.75,337.81 332.90,338.49 333.05,339.13 333.20,339.73 333.35,340.28 333.50,340.77 333.65,341.22 333.80,341.60 333.95,341.93 334.10,341.98 334.25,341.98 334.40,341.98 334.55,341.98 334.70,341.98 334.85,341.98 335.00,341.98 335.15,341.98 335.30,341.93 335.45,341.60 335.60,341.22 335.75,340.77 335.90,340.28 336.05,339.73 336.20,339.13 336.35,338.49 336.50,337.81 336.65,337.09 336.80,336.35 336.95,335.58 337.10,334.79 337.25,333.98 337.40,333.17 337.55,332.90 337.70,333.71 337.85,334.52 338.00,335.32 338.15,336.09 338.30,336.85 338.45,337.57 338.60,338.27 338.75,338.92 338.90,339.53 339.05,340.10 339.20,340.61 339.35,341.08 339.50,341.48 339.65,341.83 339.80,341.98 339.95,341.98 340.10,341.98 340.25,341.98 340.40,341.98 340.55,341.98 340.70,341.98 340.85,341.98 341.00,341.98 341.15,341.98 341.30,341.98 341.45,341.87 341.60,341.39 341.75,340.80 341.90,340.10 342.05,339.29 342.20,338.37 342.35,337.35 342.50,336.23 342.65,335.02 342.80,333.72 342.95,332.34 343.10,330.87 343.25,329.34 343.40,327.74 343.55,326.08 343.70,324.37 343.85,322.61 344.00,320.82 344.15,319.00 344.30,317.15 344.45,315.29 344.60,313.42 344.75,315.29 344.90,317.15 345.05,319.00 345.20,320.82 345.35,322.61 345.50,324.37 345.65,326.08 345.80,327.74 345.95,329.34 346.10,330.87 346.25,332.34 346.40,333.72 346.55,335.02 346.70,336.23 346.85,337.35 347.00,338.37 347.15,339.29 347.30,340.10 347.45,340.80 347.60,341.39 347.75,341.87 347.90,341.98 348.05,341.98 348.20,341.98 348.35,341.98 348.50,341.98 348.65,341.98 348.80,341.87 348.95,341.39 349.10,340.80 349.25,340.10 349.40,339.29 349.55,338.37 349.70,337.35 349.85,336.23 350.00,335.02 350.15,333.72 350.30,332.34 350.45,330.87 350.60,329.34 350.75,327.74 350.90,326.08 351.05,324.37 351.20,322.61 351.35,320.82 351.50,319.00 351.65,317.15 351.80,315.29 351.95,313.42 352.10,315.29 352.25,317.15 352.40,319.00 352.55,320.82 352.70,322.61 352.85,324.37 353.00,326.08 353.15,327.74 353.30,329.34 353.45,330.87 353.60,332.34 353.75,333.72 353.90,335.02 354.05,336.23 354.20,337.35 354.35,338.37 354.50,339.29 354.65,340.10 354.80,340.80 354.95,341.39 355.10,341.87 355.25,341.98 355.40,341.98 355.55,341.98 355.70,341.98 355.85,341.98 356.00,341.98 356.15,341.87 356.30,341.39 356.45,340.80 356.60,340.10 356.75,339.29 356.90,338.37 357.05,337.35 357.20,336.23 357.35,335.02 357.50,333.72 357.65,332.34 357.80,330.87 357.95,329.34 358.10,327.74 358.25,326.08 358.40,324.37 358.55,322.61 358.70,320.82 358.85,319.00 359.00,317.15 359.15,315.29 359.30,313.42 359.45,315.29 359.60,317.15 359.75,319.00 359.90,320.82 360.05,322.61 360.20,324.37 360.35,326.08 360.50,327.74 360.65,329.34 360.80,330.87 360.95,332.34 361.10,333.72 361.25,335.02 361.40,336.23 361.55,337.35 361.70,338.37 361.85,339.29 362.00,340.10 362.15,340.80 362.30,341.39 362.45,341.87 362.60,341.98 362.75,341.98 362.90,341.98 363.05,341.98 363.20,341.98 363.35,341.98 363.50,341.87 363.65,341.39 363.80,340.80 363.95,340.10 364.10,339.29 364.25,338.37 364.40,337.35 364.55,336.23 364.70,335.02 364.85,333.72 365.00,332.34 365.15,330.87 365.30,329.34 365.45,327.74 365.60,326.08 365.75,324.37 365.90,322.61 366.05,320.82 366.20,319.00 366.35,317.15 366.50,315.29 366.65,313.42 366.80,315.29 366.95,317.15 367.10,319.00 367.25,320.82 367.40,322.61 367.55,324.37 367.70,326.08 367.85,327.74 368.00,329.34 368.15,330.87 368.30,332.34 368.45,333.72 368.60,335.02 368.75,336.23 368.90,337.35 369.05,338.37 369.20,339.29 369.35,340.10 369.50,340.80 369.65,341.39 369.80,341.87 369.95,341.98 370.10,341.98 370.25,341.98 370.40,341.98 370.55,341.98 370.70,341.98 370.85,341.87 371.00,341.39 371.15,340.80 371.30,340.10 371.45,339.29 371.60,338.37 371.75,337.35 371.90,336.23 372.05,335.02 372.20,333.72 372.35,332.34 372.50,330.87 372.65,329.34 372.80,327.74 372.95,326.08 373.10,324.37 373.25,322.61 373.40,320.82 373.55,319.00 373.70,317.15 373.85,315.29 374.00,313.42 374.15,315.29 374.30,317.15 374.45,319.00 374.60,320.82 374.75,322.61 374.90,324.37 375.05,326.08 375.20,327.74 375.35,329.34 375.50,330.87 375.65,332.34 375.80,333.72 375.95,335.02 376.10,336.23 376.25,337.35 376.40,338.37 376.55,339.29 376.70,340.10 376.85,340.80 377.00,341.39 377.15,341.87 377.30,341.98 377.45,341.98 377.60,341.98 377.75,341.98 377.90,341.98 378.05,341.98 378.20,341.98 378.35,341.98 378.50,341.98 378.65,341.98 378.80,341.98 378.95,341.98 379.10,341.49 379.25,340.72 379.40,339.76 379.55,338.61 379.70,337.27 379.85,335.75 380.00,334.06 380.15,332.19 380.30,330.15 380.45,327.96 380.60,325.62 380.75,323.13 380.90,320.51 381.05,317.77 381.20,314.91 381.35,311.95 381.50,308.89 381.65,305.75 381.80,302.53 381.95,299.26 382.10,295.93 382.25,292.56 382.40,289.16 382.55,285.75 382.70,286.89 382.85,290.30 383.00,293.69 383.15,297.04 383.30,300.35 383.45,303.61 383.60,306.80 383.75,309.92 383.90,312.95 384.05,315.88 384.20,318.70 384.35,321.40 384.50,323.98 384.65,326.41 384.80,328.71 384.95,330.85 385.10,332.83 385.25,334.64 385.40,336.28 385.55,337.74 385.70,339.02 385.85,340.10 386.00,341.00 386.15,341.70 386.30,341.98 386.45,341.98 386.60,341.98 386.75,341.98 386.90,341.98 387.05,341.70 387.20,341.00 387.35,340.10 387.50,339.02 387.65,337.74 387.80,336.28 387.95,334.64 388.10,332.83 388.25,330.85 388.40,328.71 388.55,326.41 388.70,323.98 388.85,321.40 389.00,318.70 389.15,315.88 389.30,312.95 389.45,309.92 389.60,306.80 389.75,303.61 389.90,300.35 390.05,297.04 390.20,293.69 390.35,290.30 390.50,286.89 390.65,285.75 390.80,289.16 390.95,292.56 391.10,295.93 391.25,299.26 391.40,302.53 391.55,305.75 391.70,308.89 391.85,311.95 392.00,314.91 392.15,317.77 392.30,320.51 392.45,323.13 392.60,325.62 392.75,327.96 392.90,330.15 393.05,332.19 393.20,334.06 393.35,335.75 393.50,337.27 393.65,338.61 393.80,339.76 393.95,340.72 394.10,341.49 394.25,341.98 394.40,341.98 394.55,341.98 394.70,341.98 394.85,341.98 395.00,341.89 395.15,341.25 395.30,340.42 395.45,339.40 395.60,338.19 395.75,336.79 395.90,335.21 396.05,333.45 396.20,331.53 396.35,329.44 396.50,327.19 396.65,324.80 396.80,322.27 396.95,319.61 397.10,316.83 397.25,313.94 397.40,310.94 397.55,307.85 397.70,304.68 397.85,301.45 398.00,298.15 398.15,294.81 398.30,291.43 398.45,288.03 398.60,284.61 398.75,288.03 398.90,291.43 399.05,294.81 399.20,298.15 399.35,301.45 399.50,304.68 399.65,307.85 399.80,310.94 399.95,313.94 400.10,316.83 400.25,319.61 400.40,322.27 400.55,324.80 400.70,327.19 400.85,329.44 401.00,331.53 401.15,333.45 401.30,335.21 401.45,336.79 401.60,338.19 401.75,339.40 401.90,340.42 402.05,341.25 402.20,341.89 402.35,341.98 402.50,341.98 402.65,341.98 402.80,341.98 402.95,341.98 403.10,341.49 403.25,340.72 403.40,339.76 403.55,338.61 403.70,337.27 403.85,335.75 404.00,334.06 404.15,332.19 404.30,330.15 404.45,327.96 404.60,325.62 404.75,323.13 404.90,320.51 405.05,317.77 405.20,314.91 405.35,311.95 405.50,308.89 405.65,305.75 405.80,302.53 405.95,299.26 406.10,295.93 406.25,292.56 406.40,289.16 406.55,285.75 406.70,286.89 406.85,290.30 407.00,293.69 407.15,297.04 407.30,300.35 407.45,303.61 407.60,306.80 407.75,309.92 407.90,312.95 408.05,315.88 408.20,318.70 408.35,321.40 408.50,323.98 408.65,326.41 408.80,328.71 408.95,330.85 409.10,332.83 409.25,334.64 409.40,336.28 409.55,337.74 409.70,339.02 409.85,340.10 410.00,341.00 410.15,341.70 410.30,341.98 410.45,341.98 410.60,341.98 410.75,341.98 410.90,341.98 411.05,341.70 411.20,341.00 411.35,340.10 411.50,339.02 411.65,337.74 411.80,336.28 411.95,334.64 412.10,332.83 412.25,330.85 412.40,328.71 412.55,326.41 412.70,323.98 412.85,321.40 413.00,318.70 413.15,315.88 413.30,312.95 413.45,309.92 413.60,306.80 413.75,303.61 413.90,300.35 414.05,297.04 414.20,293.69 414.35,290.30 414.50,286.89 414.65,285.75 414.80,289.16 414.95,292.56 415.10,295.93 415.25,299.26 415.40,302.53 415.55,305.75 415.70,308.89 415.85,311.95 416.00,314.91 416.15,317.77 416.30,320.51 416.45,323.13 416.60,325.62 416.75,327.96 416.90,330.15 417.05,332.19 417.20,334.06 417.35,335.75 417.50,337.27 417.65,338.61 417.80,339.76 417.95,340.72 418.10,341.49 418.25,341.98 418.40,341.98 418.55,341.98 418.70,341.98 418.85,341.98 419.00,341.98 419.15,341.88 419.30,341.24 419.45,340.40 419.60,339.37 419.75,338.13 419.90,336.70 420.05,335.08 420.20,333.27 420.35,331.27 420.50,329.08 420.65,326.72 420.80,324.18 420.95,321.47 421.10,318.59 421.25,315.54 421.40,312.34 421.55,308.99 421.70,305.48 421.85,301.84 422.00,298.06 422.15,294.14 422.30,290.11 422.45,285.96 422.60,281.69 422.75,277.33 422.90,272.87 423.05,268.31 423.20,263.68 423.35,258.97 423.50,254.20 423.65,249.37 423.80,244.48 423.95,239.55 424.10,234.59 424.25,229.60 424.40,224.59 424.55,219.57 424.70,221.25 424.85,226.26 425.00,231.27 425.15,236.25 425.30,241.20 425.45,246.11 425.60,250.98 425.75,255.80 425.90,260.55 426.05,265.23 426.20,269.84 426.35,274.36 426.50,278.79 426.65,283.13 426.80,287.35 426.95,291.47 427.10,295.46 427.25,299.33 427.40,303.07 427.55,306.67 427.70,310.12 427.85,313.43 428.00,316.58 428.15,319.57 428.30,322.39 428.45,325.05 428.60,327.53 428.75,329.83 428.90,331.95 429.05,333.89 429.20,335.64 429.35,337.20 429.50,338.56 429.65,339.73 429.80,340.71 429.95,341.48 430.10,341.98 430.25,341.98 430.40,341.98 430.55,341.98 430.70,341.98 430.85,341.88 431.00,341.24 431.15,340.40 431.30,339.37 431.45,338.13 431.60,336.70 431.75,335.08 431.90,333.27 432.05,331.27 432.20,329.08 432.35,326.72 432.50,324.18 432.65,321.47 432.80,318.59 432.95,315.54 433.10,312.34 433.25,308.99 433.40,305.48 433.55,301.84 433.70,298.06 433.85,294.14 434.00,290.11 434.15,285.96 434.30,281.69 434.45,277.33 434.60,272.87 434.75,268.31 434.90,263.68 435.05,258.97 435.20,254.20 435.35,249.37 435.50,244.48 435.65,239.55 435.80,234.59 435.95,229.60 436.10,224.59 436.25,219.57 436.40,221.25 436.55,226.26 436.70,231.27 436.85,236.25 437.00,241.20 437.15,246.11 437.30,250.98 437.45,255.80 437.60,260.55 437.75,265.23 437.90,269.84 438.05,274.36 438.20,278.79 438.35,283.13 438.50,287.35 438.65,291.47 438.80,295.46 438.95,299.33 439.10,303.07 439.25,306.67 439.40,310.12 439.55,313.43 439.70,316.58 439.85,319.57 440.00,322.39 440.15,325.05 440.30,327.53 440.45,329.83 440.60,331.95 440.75,333.89 440.90,335.64 441.05,337.20 441.20,338.56 441.35,339.73 441.50,340.71 441.65,341.48 441.80,341.98 441.95,341.98 442.10,341.98 442.25,341.98 442.40,341.98 442.55,341.88 442.70,341.24 442.85,340.40 443.00,339.37 443.15,338.13 443.30,336.70 443.45,335.08 443.60,333.27 443.75,331.27 443.90,329.08 444.05,326.72 444.20,324.18 444.35,321.47 444.50,318.59 444.65,315.54 444.80,312.34 444.95,308.99 445.10,305.48 445.25,301.84 445.40,298.06 445.55,294.14 445.70,290.11 445.85,285.96 446.00,281.69 446.15,277.33 446.30,272.87 446.45,268.31 446.60,263.68 446.75,258.97 446.90,254.20 447.05,249.37 447.20,244.48 447.35,239.55 447.50,234.59 447.65,229.60 447.80,224.59 447.95,219.57 448.10,221.25 448.25,226.26 448.40,231.27 448.55,236.25 448.70,241.20 448.85,246.11 449.00,250.98 449.15,255.80 449.30,260.55 449.45,265.23 449.60,269.84 449.75,274.36 449.90,278.79 450.05,283.13 450.20,287.35 450.35,291.47 450.50,295.46 450.65,299.33 450.80,303.07 450.95,306.67 451.10,310.12 451.25,313.43 451.40,316.58 451.55,319.57 451.70,322.39 451.85,325.05 452.00,327.53 452.15,329.83 452.30,331.95 452.45,333.89 452.60,335.64 452.75,337.20 452.90,338.56 453.05,339.73 453.20,340.71 453.35,341.48 453.50,341.98 453.65,341.98 453.80,341.98 453.95,341.98 454.10,341.98 454.25,341.88 454.40,341.24 454.55,340.40 454.70,339.37 454.85,338.13 455.00,336.70 455.15,335.08 455.30,333.27 455.45,331.27 455.60,329.08 455.75,326.72 455.90,324.18 456.05,321.47 456.20,318.59 456.35,315.54 456.50,312.34 456.65,308.99 456.80,305.48 456.95,301.84 457.10,298.06 457.25,294.14 457.40,290.11 457.55,285.96 457.70,281.69 457.85,277.33 458.00,272.87 458.15,268.31 458.30,263.68 458.45,258.97 458.60,254.20 458.75,249.37 458.90,244.48 459.05,239.55 459.20,234.59 459.35,229.60 459.50,224.59 459.65,219.57 459.80,221.25 459.95,226.26 460.10,231.27 460.25,236.25 460.40,241.20 460.55,246.11 460.70,250.98 460.85,255.80 461.00,260.55 461.15,265.23 461.30,269.84 461.45,274.36 461.60,278.79 461.75,283.13 461.90,287.35 462.05,291.47 462.20,295.46 462.35,299.33 462.50,303.07 462.65,306.67 462.80,310.12 462.95,313.43 463.10,316.58 463.25,319.57 463.40,322.39 463.55,325.05 463.70,327.53 463.85,329.83 464.00,331.95 464.15,333.89 464.30,335.64 464.45,337.20 464.60,338.56 464.75,339.73 464.90,340.71 465.05,341.48 465.20,341.98 465.35,341.98 465.50,341.98 465.65,341.98 465.80,341.98 465.95,341.88 466.10,341.24 466.25,340.40 466.40,339.37 466.55,338.13 466.70,336.70 466.85,335.08 467.00,333.27 467.15,331.27 467.30,329.08 467.45,326.72 467.60,324.18 467.75,321.47 467.90,318.59 468.05,315.54 468.20,312.34 468.35,308.99 468.50,305.48 468.65,301.84 468.80,298.06 468.95,294.14 469.10,290.11 469.25,285.96 469.40,281.69 469.55,277.33 469.70,272.87 469.85,268.31 470.00,263.68 470.15,258.97 470.30,254.20 470.45,249.37 470.60,244.48 470.75,239.55 470.90,234.59 471.05,229.60 471.20,224.59 471.35,219.57 471.50,221.25 471.65,226.26 471.80,231.27 471.95,236.25 472.10,241.20 472.25,246.11 472.40,250.98 472.55,255.80 472.70,260.55 472.85,265.23 473.00,269.84 473.15,274.36 473.30,278.79 473.45,283.13 473.60,287.35 473.75,291.47 473.90,295.46 474.05,299.33 474.20,303.07 474.35,306.67 474.50,310.12 474.65,313.43 474.80,316.58 474.95,319.57 475.10,322.39 475.25,325.05 475.40,327.53 475.55,329.83 475.70,331.95 475.85,333.89 476.00,335.64 476.15,337.20 476.30,338.56 476.45,339.73 476.60,340.71 476.75,341.48 476.90,341.98 477.05,341.98 477.20,341.98 477.35,341.98 477.50,341.98 477.65,341.98 477.80,341.98 477.95,341.98 478.10,341.98 478.25,341.98 478.40,341.98 478.55,341.98 478.70,341.98 478.85,341.98 479.00,341.98 479.15,341.98 479.30,341.98 479.45,341.98 479.60,341.98 479.75,341.98 479.90,341.98 480.05,341.98 480.20,341.98 480.35,341.98 480.50,341.98 480.65,341.98 480.80,341.98 480.95,341.98 481.10,341.98 481.25,341.98 481.40,341.98 481.55,341.98 481.70,341.98 481.85,341.98 482.00,341.98 482.15,341.98 482.30,341.98 482.45,341.98 482.60,341.98 482.75,341.98 482.90,341.98 483.05,341.98 483.20,341.98 483.35,341.98 483.50,341.98 483.65,341.98 483.80,341.98 483.95,341.98 484.10,341.98 484.25,341.98 484.40,341.98 484.55,341.98 484.70,341.98 484.85,341.98 485.00,341.98 485.15,341.98 485.30,341.98 485.45,341.98 485.60,341.98 485.75,341.98 485.90,341.98 486.05,341.98 486.20,341.98 486.35,341.98 486.50,341.98 486.65,341.98 486.80,341.98" fill="none" stroke="#a8127c" stroke-width="1.4" stroke-linejoin="round"/>
<line x1="305.8" y1="205.9" x2="487.7" y2="205.9" stroke="#222" stroke-width="1.2"/>
<line x1="305.8" y1="343.9" x2="487.7" y2="343.9" stroke="#333" stroke-width="0.9"/>
<line x1="305.8" y1="205.5" x2="305.8" y2="344.29999999999995" stroke="#c0309a" stroke-width="1"/>
<line x1="487.7" y1="205.5" x2="487.7" y2="344.29999999999995" stroke="#5b4fc0" stroke-width="1"/>
<line x1="305.8" y1="342.60" x2="308.0" y2="342.60" stroke="#c0309a" stroke-width="0.7"/>
<line x1="485.5" y1="342.60" x2="487.7" y2="342.60" stroke="#5b4fc0" stroke-width="0.7"/>
<text x="301.2" y="345.3" font-family='"Liberation Sans", Arial, sans-serif' font-size="7.4" font-weight="bold" text-anchor="end" fill="#111" stroke="#111" stroke-width="0.2">0</text>
<text x="491.6" y="345.3" font-family='"Liberation Sans", Arial, sans-serif' font-size="7.4" font-weight="bold" text-anchor="start" fill="#111" stroke="#111" stroke-width="0.2">0</text>
<line x1="305.8" y1="330.13" x2="307.1" y2="330.13" stroke="#c0309a" stroke-width="0.6"/>
<line x1="486.4" y1="330.13" x2="487.7" y2="330.13" stroke="#5b4fc0" stroke-width="0.6"/>
<line x1="305.8" y1="317.66" x2="308.0" y2="317.66" stroke="#c0309a" stroke-width="0.7"/>
<line x1="485.5" y1="317.66" x2="487.7" y2="317.66" stroke="#5b4fc0" stroke-width="0.7"/>
<text x="301.2" y="320.36" font-family='"Liberation Sans", Arial, sans-serif' font-size="7.4" font-weight="bold" text-anchor="end" fill="#111" stroke="#111" stroke-width="0.2">20</text>
<text x="491.6" y="320.36" font-family='"Liberation Sans", Arial, sans-serif' font-size="7.4" font-weight="bold" text-anchor="start" fill="#111" stroke="#111" stroke-width="0.2">20</text>
<line x1="305.8" y1="305.19" x2="307.1" y2="305.19" stroke="#c0309a" stroke-width="0.6"/>
<line x1="486.4" y1="305.19" x2="487.7" y2="305.19" stroke="#5b4fc0" stroke-width="0.6"/>
<line x1="305.8" y1="292.72" x2="308.0" y2="292.72" stroke="#c0309a" stroke-width="0.7"/>
<line x1="485.5" y1="292.72" x2="487.7" y2="292.72" stroke="#5b4fc0" stroke-width="0.7"/>
<text x="301.2" y="295.42" font-family='"Liberation Sans", Arial, sans-serif' font-size="7.4" font-weight="bold" text-anchor="end" fill="#111" stroke="#111" stroke-width="0.2">40</text>
<text x="491.6" y="295.42" font-family='"Liberation Sans", Arial, sans-serif' font-size="7.4" font-weight="bold" text-anchor="start" fill="#111" stroke="#111" stroke-width="0.2">40</text>
<line x1="305.8" y1="280.25" x2="307.1" y2="280.25" stroke="#c0309a" stroke-width="0.6"/>
<line x1="486.4" y1="280.25" x2="487.7" y2="280.25" stroke="#5b4fc0" stroke-width="0.6"/>
<line x1="305.8" y1="267.78" x2="308.0" y2="267.78" stroke="#c0309a" stroke-width="0.7"/>
<line x1="485.5" y1="267.78" x2="487.7" y2="267.78" stroke="#5b4fc0" stroke-width="0.7"/>
<text x="301.2" y="270.48" font-family='"Liberation Sans", Arial, sans-serif' font-size="7.4" font-weight="bold" text-anchor="end" fill="#111" stroke="#111" stroke-width="0.2">60</text>
<text x="491.6" y="270.48" font-family='"Liberation Sans", Arial, sans-serif' font-size="7.4" font-weight="bold" text-anchor="start" fill="#111" stroke="#111" stroke-width="0.2">60</text>
<line x1="305.8" y1="255.31" x2="307.1" y2="255.31" stroke="#c0309a" stroke-width="0.6"/>
<line x1="486.4" y1="255.31" x2="487.7" y2="255.31" stroke="#5b4fc0" stroke-width="0.6"/>
<line x1="305.8" y1="242.84" x2="308.0" y2="242.84" stroke="#c0309a" stroke-width="0.7"/>
<line x1="485.5" y1="242.84" x2="487.7" y2="242.84" stroke="#5b4fc0" stroke-width="0.7"/>
<text x="301.2" y="245.54000000000002" font-family='"Liberation Sans", Arial, sans-serif' font-size="7.4" font-weight="bold" text-anchor="end" fill="#111" stroke="#111" stroke-width="0.2">80</text>
<text x="491.6" y="245.54000000000002" font-family='"Liberation Sans", Arial, sans-serif' font-size="7.4" font-weight="bold" text-anchor="start" fill="#111" stroke="#111" stroke-width="0.2">80</text>
<line x1="305.8" y1="230.37" x2="307.1" y2="230.37" stroke="#c0309a" stroke-width="0.6"/>
<line x1="486.4" y1="230.37" x2="487.7" y2="230.37" stroke="#5b4fc0" stroke-width="0.6"/>
<line x1="305.8" y1="217.90" x2="308.0" y2="217.90" stroke="#c0309a" stroke-width="0.7"/>
<line x1="485.5" y1="217.90" x2="487.7" y2="217.90" stroke="#5b4fc0" stroke-width="0.7"/>
<text x="301.2" y="220.6" font-family='"Liberation Sans", Arial, sans-serif' font-size="7.4" font-weight="bold" text-anchor="end" fill="#111" stroke="#111" stroke-width="0.2">100</text>
<text x="491.6" y="220.6" font-family='"Liberation Sans", Arial, sans-serif' font-size="7.4" font-weight="bold" text-anchor="start" fill="#111" stroke="#111" stroke-width="0.2">100</text>
<line x1="309.50" y1="343.9" x2="309.50" y2="341.7" stroke="#333" stroke-width="0.7"/>
<text x="309.5" y="354.1" font-family='"Liberation Sans", Arial, sans-serif' font-size="7.4" font-weight="bold" text-anchor="middle" fill="#111" stroke="#111" stroke-width="0.2">0</text>
<line x1="330.81" y1="343.9" x2="330.81" y2="341.7" stroke="#333" stroke-width="0.7"/>
<text x="330.81" y="354.1" font-family='"Liberation Sans", Arial, sans-serif' font-size="7.4" font-weight="bold" text-anchor="middle" fill="#111" stroke="#111" stroke-width="0.2">5</text>
<line x1="352.12" y1="343.9" x2="352.12" y2="341.7" stroke="#333" stroke-width="0.7"/>
<text x="352.12" y="354.1" font-family='"Liberation Sans", Arial, sans-serif' font-size="7.4" font-weight="bold" text-anchor="middle" fill="#111" stroke="#111" stroke-width="0.2">10</text>
<line x1="373.43" y1="343.9" x2="373.43" y2="341.7" stroke="#333" stroke-width="0.7"/>
<text x="373.43" y="354.1" font-family='"Liberation Sans", Arial, sans-serif' font-size="7.4" font-weight="bold" text-anchor="middle" fill="#111" stroke="#111" stroke-width="0.2">15</text>
<line x1="394.74" y1="343.9" x2="394.74" y2="341.7" stroke="#333" stroke-width="0.7"/>
<text x="394.74" y="354.1" font-family='"Liberation Sans", Arial, sans-serif' font-size="7.4" font-weight="bold" text-anchor="middle" fill="#111" stroke="#111" stroke-width="0.2">20</text>
<line x1="416.05" y1="343.9" x2="416.05" y2="341.7" stroke="#333" stroke-width="0.7"/>
<text x="416.04999999999995" y="354.1" font-family='"Liberation Sans", Arial, sans-serif' font-size="7.4" font-weight="bold" text-anchor="middle" fill="#111" stroke="#111" stroke-width="0.2">25</text>
<line x1="437.36" y1="343.9" x2="437.36" y2="341.7" stroke="#333" stroke-width="0.7"/>
<text x="437.36" y="354.1" font-family='"Liberation Sans", Arial, sans-serif' font-size="7.4" font-weight="bold" text-anchor="middle" fill="#111" stroke="#111" stroke-width="0.2">30</text>
<line x1="458.67" y1="343.9" x2="458.67" y2="341.7" stroke="#333" stroke-width="0.7"/>
<text x="458.66999999999996" y="354.1" font-family='"Liberation Sans", Arial, sans-serif' font-size="7.4" font-weight="bold" text-anchor="middle" fill="#111" stroke="#111" stroke-width="0.2">35</text>
<line x1="479.98" y1="343.9" x2="479.98" y2="341.7" stroke="#333" stroke-width="0.7"/>
<text x="479.98" y="354.1" font-family='"Liberation Sans", Arial, sans-serif' font-size="7.4" font-weight="bold" text-anchor="middle" fill="#111" stroke="#111" stroke-width="0.2">40</text>
<text x="404" y="365.3" font-family='"Liberation Sans", Arial, sans-serif' font-size="10.5" font-weight="bold" text-anchor="middle" fill="#111" stroke="#111" stroke-width="0.2">Time (s)</text>
<text x="322" y="314.2" font-family='"Liberation Sans", Arial, sans-serif' font-size="7.4" font-weight="bold" text-anchor="middle" fill="#222" stroke="#222" stroke-width="0.2">10%</text>
<text x="357.6" y="289.9" font-family='"Liberation Sans", Arial, sans-serif' font-size="7.4" font-weight="bold" text-anchor="middle" fill="#222" stroke="#222" stroke-width="0.2">30%</text>
<text x="398" y="265.5" font-family='"Liberation Sans", Arial, sans-serif' font-size="7.4" font-weight="bold" text-anchor="middle" fill="#222" stroke="#222" stroke-width="0.2">50%</text>
<text x="449.8" y="214.4" font-family='"Liberation Sans", Arial, sans-serif' font-size="7.4" font-weight="bold" text-anchor="middle" fill="#222" stroke="#222" stroke-width="0.2">100%</text>
<text transform="translate(25.0 286.6) rotate(-90)" font-family='"Liberation Sans", Arial, sans-serif' font-size="10" font-weight="bold" fill="#111" stroke="#111" stroke-width="0.2">ΔR/R<tspan font-size="5.6" dy="2.6">0</tspan></text>
<text transform="translate(249.3 284.2) rotate(-90)" font-family='"Liberation Sans", Arial, sans-serif' font-size="10.2" font-weight="bold" fill="#111" stroke="#111" stroke-width="0.2">ΔR/R<tspan font-size="5.6" dy="2.6">0</tspan></text>
<text transform="translate(279.8 290.5) rotate(-90)" font-family='"Liberation Sans", Arial, sans-serif' font-size="10.2" font-weight="bold" fill="#111" stroke="#111" stroke-width="0.2">ΔR/R<tspan font-size="5.6" dy="2.6">0</tspan></text>
<text transform="translate(520.4 289.9) rotate(-90)" font-family='"Liberation Sans", Arial, sans-serif' font-size="9.8" font-weight="bold" fill="#111" stroke="#111" stroke-width="0.2">ΔR/R<tspan font-size="5.4" dy="2.6">0</tspan></text>
<text transform="translate(508 299) rotate(-90)" font-family='"Liberation Sans", Arial, sans-serif' font-size="10.4" font-weight="bold" fill="#111">Strain (%)</text>
</svg>
</body></html>
